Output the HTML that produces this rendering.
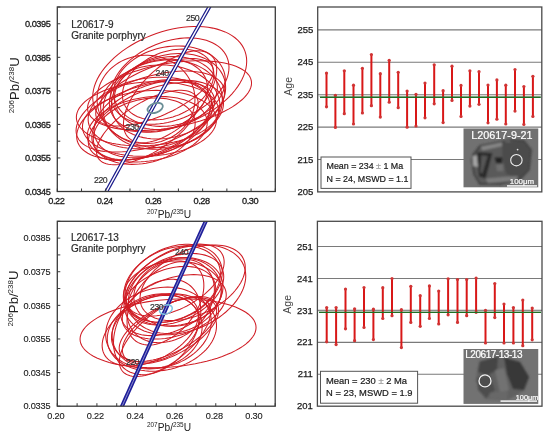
<!DOCTYPE html><html><head><meta charset="utf-8"><style>html,body{margin:0;padding:0;background:#fff;}svg{display:block}</style></head><body><svg width="550" height="437" viewBox="0 0 550 437">
<defs><filter id="bl1" x="-10%" y="-10%" width="120%" height="120%"><feGaussianBlur stdDeviation="0.9"/></filter></defs>
<rect width="550" height="437" fill="#fff"/>
<clipPath id="c1"><rect x="57.3" y="7" width="218.0" height="184.5"/></clipPath>
<g clip-path="url(#c1)">
<polygon points="251.54,83.03 251.34,80.79 250.74,78.63 249.75,76.54 248.36,74.55 246.59,72.67 244.45,70.89 241.94,69.24 239.08,67.71 235.88,66.32 232.36,65.07 228.53,63.97 224.41,63.02 220.02,62.23 215.39,61.61 210.54,61.15 205.49,60.86 200.26,60.73 194.88,60.78 189.38,61.00 183.78,61.38 178.11,61.93 172.40,62.65 166.68,63.52 160.97,64.56 155.30,65.74 149.70,67.07 144.20,68.53 138.82,70.13 133.59,71.85 128.54,73.69 123.69,75.64 119.06,77.68 114.67,79.81 110.55,82.01 106.72,84.28 103.20,86.61 100.00,88.98 97.14,91.38 94.63,93.81 92.49,96.24 90.72,98.67 89.33,101.08 88.34,103.47 87.74,105.81 87.54,108.11 87.74,110.35 88.34,112.51 89.33,114.60 90.72,116.59 92.49,118.47 94.63,120.25 97.14,121.90 100.00,123.43 103.20,124.82 106.72,126.07 110.55,127.17 114.67,128.12 119.06,128.91 123.69,129.53 128.54,129.99 133.59,130.28 138.82,130.41 144.20,130.36 149.70,130.14 155.30,129.76 160.97,129.21 166.68,128.49 172.40,127.62 178.11,126.58 183.78,125.40 189.38,124.07 194.88,122.61 200.26,121.01 205.49,119.29 210.54,117.45 215.39,115.50 220.02,113.46 224.41,111.33 228.53,109.13 232.36,106.86 235.88,104.53 239.08,102.16 241.94,99.76 244.45,97.33 246.59,94.90 248.36,92.47 249.75,90.06 250.74,87.67 251.34,85.33" fill="none" stroke="#d01c24" stroke-width="1.05"/>
<polygon points="195.14,123.55 195.02,121.31 194.64,119.13 194.03,117.00 193.17,114.94 192.07,112.96 190.74,111.07 189.18,109.28 187.40,107.60 185.41,106.03 183.22,104.58 180.85,103.26 178.29,102.08 175.57,101.04 172.69,100.14 169.68,99.40 166.54,98.81 163.29,98.38 159.95,98.11 156.53,98.00 153.05,98.05 149.53,98.27 145.99,98.64 142.43,99.18 138.89,99.86 135.37,100.71 131.89,101.69 128.47,102.83 125.13,104.10 121.88,105.50 118.75,107.03 115.73,108.68 112.85,110.43 110.13,112.29 107.57,114.24 105.20,116.27 103.01,118.37 101.02,120.54 99.24,122.76 97.68,125.02 96.35,127.31 95.25,129.62 94.39,131.93 93.78,134.24 93.40,136.54 93.28,138.81 93.40,141.05 93.78,143.23 94.39,145.36 95.25,147.42 96.35,149.40 97.68,151.29 99.24,153.08 101.02,154.76 103.01,156.33 105.20,157.78 107.57,159.10 110.13,160.28 112.85,161.32 115.73,162.22 118.74,162.96 121.88,163.55 125.13,163.98 128.47,164.25 131.89,164.36 135.37,164.31 138.89,164.09 142.43,163.72 145.99,163.18 149.53,162.50 153.05,161.65 156.53,160.67 159.95,159.53 163.29,158.26 166.54,156.86 169.68,155.33 172.69,153.68 175.57,151.93 178.29,150.07 180.85,148.12 183.22,146.09 185.41,143.99 187.40,141.82 189.18,139.60 190.74,137.34 192.07,135.05 193.17,132.74 194.03,130.43 194.64,128.12 195.02,125.82" fill="none" stroke="#d01c24" stroke-width="1.05"/>
<polygon points="194.96,99.40 194.84,96.32 194.48,93.25 193.89,90.21 193.06,87.22 192.01,84.29 190.73,81.43 189.23,78.66 187.52,75.99 185.61,73.43 183.51,71.00 181.22,68.71 178.76,66.57 176.15,64.59 173.38,62.77 170.49,61.14 167.47,59.69 164.35,58.44 161.14,57.38 157.85,56.53 154.51,55.89 151.13,55.46 147.72,55.25 144.30,55.25 140.89,55.46 137.51,55.89 134.17,56.53 130.88,57.38 127.67,58.44 124.55,59.69 121.53,61.14 118.64,62.77 115.87,64.59 113.26,66.57 110.80,68.71 108.51,71.00 106.41,73.43 104.50,75.99 102.79,78.66 101.29,81.43 100.01,84.29 98.96,87.22 98.13,90.21 97.54,93.25 97.18,96.32 97.06,99.40 97.18,102.48 97.54,105.55 98.13,108.59 98.96,111.58 100.01,114.51 101.29,117.37 102.79,120.14 104.50,122.81 106.41,125.37 108.51,127.80 110.80,130.09 113.26,132.23 115.87,134.21 118.64,136.03 121.53,137.66 124.55,139.11 127.67,140.36 130.88,141.42 134.17,142.27 137.51,142.91 140.89,143.34 144.30,143.55 147.72,143.55 151.13,143.34 154.51,142.91 157.85,142.27 161.14,141.42 164.35,140.36 167.47,139.11 170.49,137.66 173.38,136.03 176.15,134.21 178.76,132.23 181.22,130.09 183.51,127.80 185.61,125.37 187.52,122.81 189.23,120.14 190.73,117.37 192.01,114.51 193.06,111.58 193.89,108.59 194.48,105.55 194.84,102.48" fill="none" stroke="#d01c24" stroke-width="1.05"/>
<polygon points="211.52,102.35 211.37,99.89 210.94,97.53 210.21,95.27 209.20,93.14 207.91,91.13 206.35,89.27 204.52,87.55 202.43,86.00 200.09,84.61 197.52,83.39 194.73,82.35 191.72,81.49 188.52,80.82 185.14,80.34 181.60,80.05 177.91,79.96 174.10,80.06 170.17,80.36 166.16,80.85 162.07,81.53 157.93,82.40 153.77,83.45 149.59,84.68 145.43,86.08 141.29,87.64 137.20,89.36 133.19,91.23 129.26,93.25 125.45,95.39 121.76,97.65 118.22,100.02 114.84,102.48 111.64,105.04 108.63,107.66 105.84,110.35 103.27,113.08 100.93,115.84 98.84,118.63 97.01,121.42 95.45,124.20 94.16,126.97 93.15,129.69 92.42,132.38 91.99,135.00 91.84,137.55 91.99,140.01 92.42,142.37 93.15,144.63 94.16,146.76 95.45,148.77 97.01,150.63 98.84,152.35 100.93,153.90 103.27,155.29 105.84,156.51 108.63,157.55 111.64,158.41 114.84,159.08 118.22,159.56 121.76,159.85 125.45,159.94 129.26,159.84 133.19,159.54 137.20,159.05 141.29,158.37 145.43,157.50 149.59,156.45 153.77,155.22 157.93,153.82 162.07,152.26 166.16,150.54 170.17,148.67 174.10,146.65 177.91,144.51 181.60,142.25 185.14,139.88 188.52,137.42 191.72,134.86 194.73,132.24 197.52,129.55 200.09,126.82 202.43,124.06 204.52,121.27 206.35,118.48 207.91,115.70 209.20,112.93 210.21,110.21 210.94,107.52 211.37,104.90" fill="none" stroke="#d01c24" stroke-width="1.05"/>
<polygon points="216.71,69.58 216.60,67.06 216.26,64.68 215.69,62.45 214.90,60.40 213.90,58.52 212.68,56.82 211.25,55.32 209.63,54.02 207.81,52.93 205.80,52.06 203.63,51.40 201.28,50.96 198.79,50.74 196.16,50.75 193.40,50.99 190.53,51.44 187.55,52.12 184.50,53.01 181.37,54.12 178.19,55.43 174.96,56.95 171.72,58.66 168.46,60.55 165.22,62.62 161.99,64.86 158.81,67.25 155.68,69.79 152.63,72.46 149.65,75.24 146.78,78.13 144.02,81.11 141.39,84.17 138.90,87.29 136.55,90.45 134.38,93.65 132.37,96.86 130.55,100.07 128.93,103.26 127.50,106.42 126.28,109.53 125.28,112.58 124.49,115.56 123.92,118.44 123.58,121.22 123.47,123.88 123.58,126.40 123.92,128.78 124.49,131.01 125.28,133.06 126.28,134.94 127.50,136.64 128.93,138.14 130.55,139.44 132.37,140.53 134.38,141.40 136.55,142.06 138.90,142.50 141.39,142.72 144.02,142.71 146.78,142.47 149.65,142.02 152.63,141.34 155.68,140.45 158.81,139.34 161.99,138.03 165.22,136.51 168.46,134.80 171.72,132.91 174.96,130.84 178.19,128.60 181.37,126.21 184.50,123.67 187.55,121.00 190.53,118.22 193.40,115.33 196.16,112.35 198.79,109.29 201.28,106.17 203.63,103.01 205.80,99.81 207.81,96.60 209.63,93.39 211.25,90.20 212.68,87.04 213.90,83.93 214.90,80.88 215.69,77.90 216.26,75.02 216.60,72.24" fill="none" stroke="#d01c24" stroke-width="1.05"/>
<polygon points="246.70,61.26 246.51,57.85 245.95,54.55 245.02,51.36 243.72,48.31 242.06,45.41 240.04,42.67 237.69,40.12 235.00,37.75 231.99,35.58 228.69,33.63 225.09,31.90 221.22,30.40 217.11,29.13 212.76,28.11 208.20,27.34 203.45,26.82 198.54,26.56 193.49,26.55 188.33,26.80 183.07,27.30 177.75,28.06 172.39,29.06 167.01,30.31 161.65,31.80 156.33,33.52 151.07,35.46 145.91,37.61 140.86,39.97 135.95,42.51 131.20,45.24 126.64,48.13 122.29,51.17 118.18,54.35 114.31,57.65 110.71,61.05 107.41,64.54 104.40,68.10 101.71,71.72 99.36,75.38 97.34,79.05 95.68,82.72 94.38,86.37 93.45,89.99 92.89,93.56 92.70,97.06 92.89,100.47 93.45,103.77 94.38,106.96 95.68,110.01 97.34,112.91 99.36,115.65 101.71,118.20 104.40,120.57 107.41,122.74 110.71,124.69 114.31,126.42 118.18,127.92 122.29,129.19 126.64,130.21 131.20,130.98 135.95,131.50 140.86,131.76 145.91,131.77 151.07,131.52 156.33,131.02 161.65,130.26 167.01,129.26 172.39,128.01 177.75,126.52 183.07,124.80 188.33,122.86 193.49,120.71 198.54,118.35 203.45,115.81 208.20,113.08 212.76,110.19 217.11,107.15 221.22,103.97 225.09,100.67 228.69,97.27 231.99,93.78 235.00,90.22 237.69,86.60 240.04,82.94 242.06,79.27 243.72,75.60 245.02,71.95 245.95,68.33 246.51,64.76" fill="none" stroke="#d01c24" stroke-width="1.05"/>
<polygon points="222.37,99.73 222.22,96.64 221.79,93.59 221.07,90.60 220.06,87.67 218.78,84.83 217.22,82.09 215.39,79.45 213.32,76.94 210.99,74.56 208.43,72.33 205.65,70.26 202.65,68.35 199.47,66.62 196.10,65.08 192.58,63.72 188.90,62.57 185.10,61.62 181.19,60.89 177.20,60.36 173.13,60.05 169.01,59.96 164.86,60.09 160.70,60.43 156.55,60.99 152.43,61.76 148.36,62.74 144.37,63.92 140.46,65.31 136.66,66.88 132.99,68.64 129.46,70.57 126.09,72.67 122.91,74.93 119.91,77.33 117.13,79.86 114.57,82.51 112.24,85.27 110.17,88.13 108.34,91.07 106.78,94.07 105.50,97.12 104.49,100.21 103.77,103.33 103.34,106.45 103.19,109.55 103.34,112.64 103.77,115.69 104.49,118.68 105.50,121.61 106.78,124.45 108.34,127.19 110.17,129.83 112.24,132.34 114.57,134.72 117.13,136.95 119.91,139.02 122.91,140.93 126.09,142.66 129.46,144.20 132.98,145.56 136.66,146.71 140.46,147.66 144.37,148.39 148.36,148.92 152.43,149.23 156.55,149.32 160.70,149.19 164.86,148.85 169.01,148.29 173.13,147.52 177.20,146.54 181.19,145.36 185.10,143.97 188.90,142.40 192.58,140.64 196.10,138.71 199.47,136.61 202.65,134.35 205.65,131.95 208.43,129.42 210.99,126.77 213.32,124.01 215.39,121.15 217.22,118.21 218.78,115.21 220.06,112.16 221.07,109.07 221.79,105.95 222.22,102.83" fill="none" stroke="#d01c24" stroke-width="1.05"/>
<polygon points="228.98,67.26 228.84,64.44 228.40,61.70 227.69,59.06 226.69,56.52 225.41,54.10 223.87,51.82 222.06,49.67 220.00,47.68 217.69,45.86 215.15,44.20 212.38,42.72 209.42,41.43 206.25,40.34 202.92,39.44 199.41,38.74 195.77,38.25 192.00,37.97 188.12,37.90 184.15,38.04 180.12,38.39 176.03,38.95 171.91,39.71 167.79,40.68 163.67,41.84 159.58,43.19 155.55,44.73 151.58,46.44 147.70,48.33 143.93,50.37 140.28,52.56 136.78,54.89 133.45,57.35 130.28,59.92 127.32,62.60 124.55,65.37 122.01,68.21 119.70,71.12 117.64,74.07 115.83,77.06 114.29,80.07 113.01,83.09 112.01,86.09 111.30,89.07 110.86,92.01 110.72,94.90 110.86,97.72 111.30,100.46 112.01,103.10 113.01,105.64 114.29,108.06 115.83,110.34 117.64,112.49 119.70,114.48 122.01,116.30 124.55,117.96 127.32,119.44 130.28,120.73 133.45,121.82 136.78,122.72 140.28,123.42 143.93,123.91 147.70,124.19 151.58,124.26 155.55,124.12 159.58,123.77 163.67,123.21 167.79,122.45 171.91,121.48 176.03,120.32 180.12,118.97 184.15,117.43 188.12,115.72 192.00,113.83 195.77,111.79 199.41,109.60 202.92,107.27 206.25,104.81 209.42,102.24 212.38,99.56 215.15,96.79 217.69,93.95 220.00,91.04 222.06,88.09 223.87,85.10 225.41,82.09 226.69,79.07 227.69,76.07 228.40,73.09 228.84,70.15" fill="none" stroke="#d01c24" stroke-width="1.05"/>
<polygon points="207.66,88.34 207.54,85.86 207.18,83.42 206.59,81.05 205.76,78.75 204.70,76.53 203.41,74.40 201.91,72.38 200.19,70.47 198.27,68.68 196.16,67.02 193.87,65.51 191.40,64.14 188.77,62.92 185.99,61.86 183.09,60.97 180.06,60.25 176.92,59.70 173.70,59.32 170.40,59.12 167.04,59.10 163.65,59.26 160.23,59.60 156.79,60.11 153.37,60.79 149.98,61.64 146.62,62.66 143.32,63.84 140.10,65.18 136.96,66.66 133.94,68.28 131.03,70.04 128.25,71.92 125.62,73.92 123.15,76.03 120.86,78.23 118.75,80.51 116.83,82.87 115.11,85.29 113.61,87.76 112.32,90.27 111.26,92.81 110.43,95.35 109.84,97.91 109.48,100.45 109.36,102.96 109.48,105.44 109.84,107.88 110.43,110.25 111.26,112.55 112.32,114.77 113.61,116.90 115.11,118.92 116.83,120.83 118.75,122.62 120.86,124.28 123.15,125.79 125.62,127.16 128.25,128.38 131.03,129.44 133.93,130.33 136.96,131.05 140.10,131.60 143.32,131.98 146.62,132.18 149.98,132.20 153.37,132.04 156.79,131.70 160.23,131.19 163.65,130.51 167.04,129.66 170.40,128.64 173.70,127.46 176.92,126.12 180.06,124.64 183.09,123.02 185.99,121.26 188.77,119.38 191.40,117.38 193.87,115.27 196.16,113.07 198.27,110.79 200.19,108.43 201.91,106.01 203.41,103.54 204.70,101.03 205.76,98.49 206.59,95.95 207.18,93.39 207.54,90.85" fill="none" stroke="#d01c24" stroke-width="1.05"/>
<polygon points="198.17,103.31 198.05,101.40 197.68,99.61 197.06,97.96 196.20,96.45 195.11,95.09 193.78,93.90 192.22,92.86 190.45,92.00 188.47,91.30 186.28,90.79 183.91,90.45 181.36,90.29 178.64,90.32 175.77,90.52 172.77,90.91 169.63,91.47 166.39,92.21 163.06,93.13 159.65,94.20 156.18,95.45 152.67,96.84 149.13,98.39 145.59,100.08 142.05,101.91 138.54,103.85 135.07,105.92 131.66,108.09 128.33,110.35 125.09,112.70 121.96,115.11 118.95,117.59 116.08,120.12 113.36,122.69 110.81,125.27 108.44,127.87 106.25,130.47 104.27,133.05 102.50,135.61 100.94,138.12 99.61,140.59 98.52,142.99 97.66,145.31 97.04,147.55 96.67,149.69 96.55,151.73 96.67,153.64 97.04,155.43 97.66,157.08 98.52,158.59 99.61,159.95 100.94,161.14 102.50,162.18 104.27,163.04 106.25,163.74 108.44,164.25 110.81,164.59 113.36,164.75 116.08,164.72 118.95,164.52 121.95,164.13 125.09,163.57 128.33,162.83 131.66,161.91 135.07,160.84 138.54,159.59 142.05,158.20 145.59,156.65 149.13,154.96 152.67,153.13 156.18,151.19 159.65,149.12 163.06,146.95 166.39,144.69 169.63,142.34 172.77,139.93 175.77,137.45 178.64,134.92 181.36,132.35 183.91,129.77 186.28,127.17 188.47,124.57 190.45,121.99 192.22,119.43 193.78,116.92 195.11,114.45 196.20,112.05 197.06,109.73 197.68,107.49 198.05,105.35" fill="none" stroke="#d01c24" stroke-width="1.05"/>
<polygon points="207.23,122.63 207.08,120.41 206.65,118.23 205.92,116.10 204.91,114.04 203.61,112.04 202.05,110.14 200.21,108.32 198.12,106.61 195.78,105.01 193.20,103.52 190.40,102.16 187.39,100.94 184.19,99.84 180.80,98.90 177.25,98.10 173.56,97.45 169.74,96.96 165.81,96.62 161.78,96.44 157.69,96.42 153.55,96.56 149.37,96.86 145.19,97.32 141.01,97.93 136.87,98.70 132.78,99.61 128.75,100.67 124.82,101.87 121.00,103.20 117.31,104.65 113.76,106.23 110.37,107.92 107.17,109.71 104.16,111.60 101.36,113.57 98.78,115.62 96.44,117.73 94.35,119.90 92.51,122.12 90.95,124.37 89.65,126.64 88.64,128.93 87.91,131.21 87.48,133.49 87.33,135.75 87.48,137.97 87.91,140.15 88.64,142.28 89.65,144.34 90.95,146.34 92.51,148.24 94.35,150.06 96.44,151.77 98.78,153.37 101.36,154.86 104.16,156.22 107.17,157.44 110.37,158.54 113.76,159.48 117.30,160.28 121.00,160.93 124.82,161.42 128.75,161.76 132.78,161.94 136.87,161.96 141.01,161.82 145.19,161.52 149.37,161.06 153.55,160.45 157.69,159.68 161.78,158.77 165.81,157.71 169.74,156.51 173.56,155.18 177.25,153.73 180.80,152.15 184.19,150.46 187.39,148.67 190.40,146.78 193.20,144.81 195.78,142.76 198.12,140.65 200.21,138.48 202.05,136.26 203.61,134.01 204.91,131.74 205.92,129.45 206.65,127.17 207.08,124.89" fill="none" stroke="#d01c24" stroke-width="1.05"/>
<polygon points="212.63,106.96 212.48,104.51 212.02,102.10 211.27,99.75 210.22,97.46 208.88,95.25 207.25,93.12 205.34,91.09 203.17,89.17 200.74,87.36 198.07,85.68 195.16,84.13 192.03,82.73 188.70,81.47 185.19,80.36 181.50,79.42 177.67,78.64 173.70,78.02 169.62,77.58 165.44,77.31 161.19,77.21 156.89,77.29 152.55,77.54 148.21,77.97 143.87,78.56 139.57,79.33 135.32,80.25 131.14,81.34 127.06,82.59 123.09,83.98 119.26,85.51 115.57,87.18 112.06,88.97 108.73,90.88 105.60,92.90 102.69,95.02 100.02,97.22 97.59,99.50 95.42,101.85 93.51,104.25 91.88,106.70 90.54,109.17 89.49,111.67 88.74,114.17 88.28,116.66 88.13,119.14 88.28,121.59 88.74,124.00 89.49,126.35 90.54,128.64 91.88,130.85 93.51,132.98 95.42,135.01 97.59,136.93 100.02,138.74 102.69,140.42 105.60,141.97 108.73,143.37 112.06,144.63 115.57,145.74 119.25,146.68 123.09,147.46 127.06,148.08 131.14,148.52 135.32,148.79 139.57,148.89 143.87,148.81 148.21,148.56 152.55,148.13 156.89,147.54 161.19,146.77 165.44,145.85 169.62,144.76 173.70,143.51 177.67,142.12 181.50,140.59 185.19,138.92 188.70,137.13 192.03,135.22 195.16,133.20 198.07,131.08 200.74,128.88 203.17,126.60 205.34,124.25 207.25,121.85 208.88,119.40 210.22,116.93 211.27,114.43 212.02,111.93 212.48,109.44" fill="none" stroke="#d01c24" stroke-width="1.05"/>
<polygon points="225.32,80.13 225.18,77.37 224.78,74.65 224.10,71.99 223.16,69.40 221.95,66.89 220.49,64.47 218.79,62.16 216.84,59.97 214.66,57.90 212.26,55.97 209.65,54.19 206.85,52.56 203.87,51.10 200.71,49.81 197.41,48.70 193.97,47.77 190.41,47.02 186.75,46.47 183.00,46.11 179.19,45.94 175.33,45.97 171.45,46.20 167.55,46.62 163.67,47.23 159.81,48.04 156.00,49.03 152.25,50.20 148.59,51.54 145.03,53.06 141.59,54.73 138.29,56.56 135.13,58.53 132.15,60.64 129.35,62.87 126.74,65.22 124.34,67.66 122.16,70.20 120.21,72.81 118.51,75.49 117.05,78.23 115.84,81.00 114.90,83.79 114.22,86.60 113.82,89.41 113.68,92.19 113.82,94.95 114.22,97.67 114.90,100.33 115.84,102.92 117.05,105.43 118.51,107.85 120.21,110.16 122.16,112.35 124.34,114.42 126.74,116.35 129.35,118.13 132.15,119.76 135.13,121.22 138.29,122.51 141.59,123.62 145.03,124.55 148.59,125.30 152.25,125.85 156.00,126.21 159.81,126.38 163.67,126.35 167.55,126.12 171.45,125.70 175.33,125.09 179.19,124.28 183.00,123.29 186.75,122.12 190.41,120.78 193.97,119.26 197.41,117.59 200.71,115.76 203.87,113.79 206.85,111.68 209.65,109.45 212.26,107.10 214.66,104.66 216.84,102.12 218.79,99.51 220.49,96.83 221.95,94.09 223.16,91.32 224.10,88.53 224.78,85.72 225.18,82.91" fill="none" stroke="#d01c24" stroke-width="1.05"/>
<polygon points="216.41,120.06 216.25,117.78 215.76,115.53 214.95,113.31 213.82,111.14 212.37,109.04 210.62,107.00 208.57,105.04 206.23,103.17 203.62,101.40 200.74,99.74 197.61,98.19 194.25,96.77 190.67,95.47 186.88,94.31 182.92,93.29 178.79,92.42 174.52,91.70 170.13,91.13 165.63,90.72 161.06,90.47 156.43,90.38 151.77,90.45 147.09,90.68 142.43,91.07 137.80,91.62 133.23,92.32 128.73,93.17 124.34,94.17 120.07,95.31 115.94,96.59 111.98,98.00 108.19,99.53 104.61,101.18 101.25,102.94 98.12,104.79 95.24,106.74 92.63,108.77 90.29,110.87 88.24,113.03 86.49,115.24 85.04,117.49 83.91,119.76 83.10,122.06 82.61,124.36 82.45,126.66 82.61,128.94 83.10,131.19 83.91,133.41 85.04,135.58 86.49,137.68 88.24,139.72 90.29,141.68 92.63,143.55 95.24,145.32 98.12,146.98 101.25,148.53 104.61,149.95 108.19,151.25 111.98,152.41 115.94,153.43 120.07,154.30 124.34,155.02 128.73,155.59 133.23,156.00 137.80,156.25 142.43,156.34 147.09,156.27 151.77,156.04 156.43,155.65 161.06,155.10 165.63,154.40 170.13,153.55 174.52,152.55 178.79,151.41 182.92,150.13 186.88,148.72 190.67,147.19 194.25,145.54 197.61,143.78 200.74,141.93 203.62,139.98 206.23,137.95 208.57,135.85 210.62,133.69 212.37,131.48 213.82,129.23 214.95,126.96 215.76,124.66 216.25,122.36" fill="none" stroke="#d01c24" stroke-width="1.05"/>
<polygon points="213.80,73.88 213.69,71.55 213.36,69.29 212.80,67.10 212.03,65.00 211.04,62.98 209.85,61.08 208.45,59.29 206.86,57.62 205.07,56.08 203.11,54.68 200.97,53.43 198.68,52.32 196.24,51.38 193.66,50.59 190.95,49.97 188.13,49.52 185.22,49.24 182.22,49.13 179.16,49.19 176.04,49.43 172.88,49.83 169.69,50.41 166.51,51.15 163.32,52.05 160.16,53.11 157.04,54.33 153.98,55.69 150.98,57.19 148.07,58.82 145.25,60.58 142.54,62.46 139.96,64.44 137.52,66.52 135.23,68.69 133.09,70.93 131.13,73.25 129.34,75.61 127.75,78.02 126.35,80.46 125.16,82.92 124.17,85.39 123.40,87.85 122.84,90.30 122.51,92.72 122.40,95.10 122.51,97.43 122.84,99.69 123.40,101.88 124.17,103.98 125.16,106.00 126.35,107.90 127.75,109.69 129.34,111.36 131.13,112.90 133.09,114.30 135.23,115.55 137.52,116.66 139.96,117.60 142.54,118.39 145.25,119.01 148.07,119.46 150.98,119.74 153.98,119.85 157.04,119.79 160.16,119.55 163.32,119.15 166.51,118.57 169.69,117.83 172.88,116.93 176.04,115.87 179.16,114.65 182.22,113.29 185.22,111.79 188.13,110.16 190.95,108.40 193.66,106.52 196.24,104.54 198.68,102.46 200.97,100.29 203.11,98.05 205.07,95.73 206.86,93.37 208.45,90.96 209.85,88.52 211.04,86.06 212.03,83.59 212.80,81.13 213.36,78.68 213.69,76.26" fill="none" stroke="#d01c24" stroke-width="1.05"/>
<polygon points="218.58,110.27 218.41,108.06 217.89,105.87 217.03,103.72 215.83,101.62 214.29,99.58 212.43,97.61 210.26,95.72 207.77,93.91 205.00,92.20 201.94,90.60 198.62,89.11 195.05,87.74 191.25,86.50 187.23,85.39 183.03,84.42 178.64,83.59 174.11,82.91 169.44,82.38 164.67,82.01 159.82,81.79 154.90,81.72 149.95,81.81 144.99,82.06 140.04,82.46 135.12,83.01 130.27,83.72 125.50,84.57 120.83,85.56 116.30,86.69 111.92,87.95 107.71,89.34 103.69,90.85 99.89,92.47 96.32,94.19 93.00,96.01 89.94,97.91 87.17,99.90 84.68,101.95 82.51,104.05 80.65,106.21 79.11,108.40 77.91,110.62 77.05,112.86 76.53,115.10 76.36,117.33 76.53,119.54 77.05,121.73 77.91,123.88 79.11,125.98 80.65,128.02 82.51,129.99 84.68,131.88 87.17,133.69 89.94,135.40 93.00,137.00 96.32,138.49 99.89,139.86 103.69,141.10 107.71,142.21 111.91,143.18 116.30,144.01 120.83,144.69 125.50,145.22 130.27,145.59 135.12,145.81 140.04,145.88 144.99,145.79 149.95,145.54 154.90,145.14 159.82,144.59 164.67,143.88 169.44,143.03 174.11,142.04 178.64,140.91 183.03,139.65 187.23,138.26 191.25,136.75 195.05,135.13 198.62,133.41 201.94,131.59 205.00,129.69 207.77,127.70 210.26,125.65 212.43,123.55 214.29,121.39 215.83,119.20 217.03,116.98 217.89,114.74 218.41,112.50" fill="none" stroke="#d01c24" stroke-width="1.05"/>
<polygon points="217.36,87.60 217.23,85.10 216.86,82.63 216.23,80.22 215.36,77.87 214.25,75.60 212.91,73.41 211.33,71.31 209.53,69.32 207.52,67.45 205.31,65.70 202.90,64.09 200.32,62.61 197.56,61.29 194.65,60.12 191.60,59.11 188.43,58.26 185.15,57.59 181.77,57.09 178.31,56.76 174.79,56.61 171.23,56.64 167.65,56.84 164.05,57.23 160.47,57.78 156.91,58.51 153.39,59.41 149.93,60.47 146.55,61.69 143.27,63.06 140.09,64.58 137.05,66.24 134.14,68.02 131.38,69.93 128.80,71.96 126.39,74.08 124.18,76.30 122.17,78.60 120.37,80.97 118.79,83.40 117.45,85.88 116.34,88.39 115.47,90.92 114.84,93.47 114.47,96.01 114.34,98.54 114.47,101.04 114.84,103.51 115.47,105.92 116.34,108.27 117.45,110.54 118.79,112.73 120.37,114.83 122.17,116.82 124.18,118.69 126.39,120.44 128.80,122.05 131.38,123.53 134.14,124.85 137.05,126.02 140.09,127.03 143.27,127.88 146.55,128.55 149.93,129.05 153.39,129.38 156.91,129.53 160.47,129.50 164.05,129.30 167.65,128.91 171.23,128.36 174.79,127.63 178.31,126.73 181.77,125.67 185.15,124.45 188.43,123.08 191.60,121.56 194.65,119.90 197.56,118.12 200.32,116.21 202.90,114.18 205.31,112.06 207.52,109.84 209.53,107.54 211.33,105.17 212.91,102.74 214.25,100.26 215.36,97.75 216.23,95.22 216.86,92.67 217.23,90.13" fill="none" stroke="#d01c24" stroke-width="1.05"/>
<polygon points="213.30,71.08 213.16,69.30 212.73,67.64 212.02,66.10 211.02,64.68 209.75,63.40 208.22,62.26 206.42,61.27 204.37,60.43 202.07,59.74 199.55,59.21 196.80,58.85 193.85,58.64 190.70,58.61 187.38,58.73 183.91,59.02 180.28,59.47 176.53,60.08 172.68,60.85 168.73,61.77 164.72,62.84 160.66,64.06 156.56,65.41 152.46,66.89 148.36,68.50 144.30,70.22 140.29,72.05 136.34,73.98 132.49,76.00 128.74,78.10 125.12,80.26 121.64,82.49 118.32,84.76 115.17,87.07 112.22,89.41 109.47,91.76 106.95,94.11 104.65,96.46 102.60,98.78 100.80,101.08 99.27,103.33 98.00,105.52 97.00,107.65 96.29,109.71 95.86,111.69 95.72,113.56 95.86,115.34 96.29,117.00 97.00,118.54 98.00,119.96 99.27,121.24 100.80,122.38 102.60,123.37 104.65,124.21 106.95,124.90 109.47,125.43 112.22,125.79 115.17,126.00 118.32,126.03 121.64,125.91 125.11,125.62 128.74,125.17 132.49,124.56 136.34,123.79 140.29,122.87 144.30,121.80 148.36,120.58 152.46,119.23 156.56,117.75 160.66,116.14 164.72,114.42 168.73,112.59 172.68,110.66 176.53,108.64 180.28,106.54 183.91,104.38 187.38,102.15 190.70,99.88 193.85,97.57 196.80,95.23 199.55,92.88 202.07,90.53 204.37,88.18 206.42,85.86 208.22,83.56 209.75,81.31 211.02,79.12 212.02,76.99 212.73,74.93 213.16,72.95" fill="none" stroke="#d01c24" stroke-width="1.05"/>
<polygon points="210.17,107.10 210.03,104.53 209.61,102.03 208.90,99.62 207.92,97.30 206.67,95.08 205.15,92.98 203.38,91.01 201.35,89.17 199.08,87.47 196.59,85.93 193.88,84.55 190.96,83.33 187.86,82.29 184.58,81.42 181.15,80.74 177.57,80.24 173.87,79.93 170.06,79.81 166.16,79.88 162.20,80.14 158.19,80.59 154.15,81.22 150.09,82.04 146.05,83.03 142.04,84.20 138.08,85.54 134.18,87.04 130.37,88.69 126.67,90.50 123.10,92.43 119.66,94.50 116.38,96.69 113.28,98.98 110.36,101.37 107.65,103.85 105.16,106.39 102.89,109.00 100.86,111.66 99.09,114.35 97.57,117.06 96.32,119.78 95.34,122.50 94.63,125.20 94.21,127.86 94.07,130.48 94.21,133.05 94.63,135.55 95.34,137.96 96.32,140.28 97.57,142.50 99.09,144.60 100.86,146.57 102.89,148.41 105.16,150.11 107.65,151.65 110.36,153.03 113.28,154.25 116.38,155.29 119.66,156.16 123.09,156.84 126.67,157.34 130.37,157.65 134.18,157.77 138.08,157.70 142.04,157.44 146.05,156.99 150.09,156.36 154.15,155.54 158.19,154.55 162.20,153.38 166.16,152.04 170.06,150.54 173.87,148.89 177.57,147.08 181.15,145.15 184.58,143.08 187.86,140.89 190.96,138.60 193.88,136.21 196.59,133.73 199.08,131.19 201.35,128.58 203.38,125.92 205.15,123.23 206.67,120.52 207.92,117.80 208.90,115.08 209.61,112.38 210.03,109.72" fill="none" stroke="#d01c24" stroke-width="1.05"/>
<polygon points="224.56,92.51 224.38,90.06 223.84,87.72 222.94,85.49 221.68,83.39 220.08,81.43 218.14,79.61 215.87,77.95 213.28,76.46 210.38,75.13 207.19,73.98 203.72,73.02 199.99,72.24 196.02,71.65 191.83,71.26 187.44,71.06 182.86,71.07 178.12,71.26 173.25,71.66 168.27,72.25 163.20,73.03 158.07,74.00 152.90,75.15 147.72,76.48 142.55,77.98 137.42,79.64 132.35,81.46 127.37,83.43 122.50,85.53 117.76,87.76 113.19,90.10 108.79,92.55 104.60,95.10 100.63,97.72 96.90,100.41 93.43,103.15 90.24,105.94 87.34,108.75 84.75,111.57 82.48,114.40 80.54,117.21 78.94,120.00 77.68,122.74 76.78,125.43 76.24,128.05 76.06,130.59 76.24,133.04 76.78,135.38 77.68,137.61 78.94,139.71 80.54,141.67 82.48,143.49 84.75,145.15 87.34,146.64 90.24,147.97 93.43,149.12 96.90,150.08 100.63,150.86 104.60,151.45 108.79,151.84 113.18,152.04 117.76,152.03 122.50,151.84 127.37,151.44 132.35,150.85 137.42,150.07 142.55,149.10 147.72,147.95 152.90,146.62 158.07,145.12 163.20,143.46 168.27,141.64 173.25,139.67 178.12,137.57 182.86,135.34 187.44,133.00 191.83,130.55 196.02,128.00 199.99,125.38 203.72,122.69 207.19,119.95 210.38,117.16 213.28,114.35 215.87,111.53 218.14,108.70 220.08,105.89 221.68,103.10 222.94,100.36 223.84,97.67 224.38,95.05" fill="none" stroke="#d01c24" stroke-width="1.05"/>
<polygon points="223.49,103.55 223.31,101.05 222.78,98.64 221.89,96.33 220.65,94.14 219.06,92.07 217.14,90.14 214.90,88.35 212.33,86.72 209.47,85.25 206.31,83.94 202.88,82.82 199.20,81.87 195.27,81.11 191.13,80.54 186.78,80.16 182.26,79.98 177.57,79.99 172.76,80.19 167.83,80.59 162.82,81.18 157.74,81.96 152.63,82.93 147.51,84.07 142.40,85.39 137.32,86.88 132.31,88.53 127.38,90.33 122.57,92.27 117.88,94.35 113.36,96.56 109.01,98.88 104.87,101.30 100.94,103.82 97.26,106.41 93.83,109.06 90.67,111.78 87.81,114.53 85.24,117.30 83.00,120.09 81.08,122.88 79.49,125.66 78.25,128.40 77.36,131.11 76.83,133.76 76.65,136.35 76.83,138.85 77.36,141.26 78.25,143.57 79.49,145.76 81.08,147.83 83.00,149.76 85.24,151.55 87.81,153.18 90.67,154.65 93.83,155.96 97.26,157.08 100.94,158.03 104.87,158.79 109.01,159.36 113.36,159.74 117.88,159.92 122.57,159.91 127.38,159.71 132.31,159.31 137.32,158.72 142.40,157.94 147.51,156.97 152.63,155.83 157.74,154.51 162.82,153.02 167.83,151.37 172.76,149.57 177.57,147.63 182.26,145.55 186.78,143.34 191.13,141.02 195.27,138.60 199.20,136.08 202.88,133.49 206.31,130.84 209.47,128.12 212.33,125.37 214.90,122.60 217.14,119.81 219.06,117.02 220.65,114.24 221.89,111.50 222.78,108.79 223.31,106.14" fill="none" stroke="#d01c24" stroke-width="1.05"/>
<polygon points="225.63,87.68 225.49,84.78 225.07,81.93 224.38,79.15 223.42,76.46 222.19,73.86 220.69,71.38 218.94,69.01 216.95,66.78 214.72,64.69 212.27,62.75 209.60,60.97 206.73,59.37 203.68,57.95 200.45,56.71 197.07,55.67 193.55,54.83 189.91,54.18 186.16,53.74 182.33,53.51 178.43,53.49 174.48,53.67 170.50,54.06 166.52,54.66 162.54,55.46 158.59,56.46 154.69,57.65 150.86,59.03 147.11,60.59 143.47,62.32 139.95,64.22 136.57,66.28 133.34,68.48 130.29,70.82 127.42,73.28 124.75,75.85 122.30,78.52 120.07,81.28 118.08,84.11 116.33,87.00 114.83,89.94 113.60,92.90 112.64,95.88 111.95,98.87 111.53,101.84 111.39,104.78 111.53,107.68 111.95,110.53 112.64,113.31 113.60,116.00 114.83,118.60 116.33,121.08 118.08,123.45 120.07,125.68 122.30,127.77 124.75,129.71 127.42,131.49 130.29,133.09 133.34,134.51 136.57,135.75 139.95,136.79 143.47,137.63 147.11,138.28 150.86,138.72 154.69,138.95 158.59,138.97 162.54,138.79 166.52,138.40 170.50,137.80 174.48,137.00 178.43,136.00 182.33,134.81 186.16,133.43 189.91,131.87 193.55,130.14 197.07,128.24 200.45,126.18 203.68,123.98 206.73,121.64 209.60,119.18 212.27,116.61 214.72,113.94 216.95,111.18 218.94,108.35 220.69,105.46 222.19,102.52 223.42,99.56 224.38,96.58 225.07,93.59 225.49,90.62" fill="none" stroke="#d01c24" stroke-width="1.05"/>
<polygon points="214.53,101.19 214.38,98.91 213.92,96.75 213.15,94.71 212.08,92.80 210.72,91.02 209.07,89.40 207.14,87.93 204.94,86.63 202.47,85.49 199.76,84.53 196.81,83.75 193.64,83.15 190.27,82.74 186.70,82.52 182.97,82.49 179.07,82.65 175.05,83.00 170.91,83.53 166.67,84.25 162.36,85.15 158.00,86.23 153.60,87.48 149.20,88.89 144.80,90.46 140.44,92.19 136.13,94.05 131.89,96.05 127.75,98.18 123.73,100.42 119.84,102.75 116.10,105.19 112.53,107.70 109.16,110.27 105.99,112.90 103.04,115.58 100.33,118.28 97.86,121.00 95.66,123.72 93.73,126.42 92.08,129.11 90.72,131.75 89.65,134.35 88.88,136.88 88.42,139.34 88.27,141.71 88.42,143.99 88.88,146.15 89.65,148.19 90.72,150.10 92.08,151.88 93.73,153.50 95.66,154.97 97.86,156.27 100.33,157.41 103.04,158.37 105.99,159.15 109.16,159.75 112.53,160.16 116.10,160.38 119.83,160.41 123.73,160.25 127.75,159.90 131.89,159.37 136.13,158.65 140.44,157.75 144.80,156.67 149.20,155.42 153.60,154.01 158.00,152.44 162.36,150.71 166.67,148.85 170.91,146.85 175.05,144.72 179.07,142.48 182.97,140.15 186.70,137.71 190.27,135.20 193.64,132.63 196.81,130.00 199.76,127.32 202.47,124.62 204.94,121.90 207.14,119.18 209.07,116.48 210.72,113.79 212.08,111.15 213.15,108.55 213.92,106.02 214.38,103.56" fill="none" stroke="#d01c24" stroke-width="1.05"/>
<polygon points="219.96,105.81 219.81,102.92 219.38,100.06 218.66,97.22 217.65,94.43 216.36,91.70 214.80,89.03 212.98,86.45 210.89,83.97 208.56,81.59 206.00,79.34 203.21,77.21 200.22,75.23 197.03,73.40 193.66,71.73 190.12,70.22 186.45,68.89 182.64,67.75 178.73,66.79 174.73,66.02 170.65,65.45 166.53,65.08 162.37,64.90 158.21,64.93 154.05,65.16 149.93,65.59 145.85,66.22 141.85,67.04 137.94,68.06 134.13,69.26 130.46,70.64 126.92,72.19 123.55,73.91 120.36,75.78 117.37,77.81 114.58,79.97 112.02,82.26 109.69,84.67 107.60,87.18 105.78,89.79 104.22,92.47 102.93,95.23 101.92,98.03 101.20,100.88 100.77,103.75 100.62,106.63 100.77,109.52 101.20,112.38 101.92,115.22 102.93,118.01 104.22,120.74 105.78,123.41 107.60,125.99 109.69,128.47 112.02,130.85 114.58,133.10 117.37,135.23 120.36,137.21 123.55,139.04 126.92,140.71 130.45,142.22 134.13,143.55 137.94,144.69 141.85,145.65 145.85,146.42 149.93,146.99 154.05,147.36 158.21,147.54 162.37,147.51 166.53,147.28 170.65,146.85 174.73,146.22 178.73,145.40 182.64,144.38 186.45,143.18 190.12,141.80 193.66,140.25 197.03,138.53 200.22,136.66 203.21,134.63 206.00,132.47 208.56,130.18 210.89,127.77 212.98,125.26 214.80,122.65 216.36,119.97 217.65,117.21 218.66,114.41 219.38,111.56 219.81,108.69" fill="none" stroke="#d01c24" stroke-width="1.05"/>
<polyline points="-89.98,559.11 -87.21,553.78 -84.44,548.45 -81.67,543.12 -78.90,537.79 -76.12,532.46 -73.34,527.13 -70.55,521.80 -67.77,516.47 -64.98,511.14 -62.19,505.80 -59.39,500.47 -56.60,495.13 -53.80,489.79 -51.00,484.46 -48.19,479.12 -45.38,473.78 -42.57,468.44 -39.76,463.10 -36.94,457.76 -34.12,452.41 -31.30,447.07 -28.48,441.73 -25.65,436.38 -22.82,431.04 -19.99,425.69 -17.15,420.34 -14.31,415.00 -11.47,409.65 -8.63,404.30 -5.78,398.95 -2.93,393.59 -0.08,388.24 2.78,382.89 5.63,377.53 8.49,372.18 11.36,366.82 14.22,361.47 17.09,356.11 19.97,350.75 22.84,345.39 25.72,340.03 28.60,334.67 31.48,329.31 34.37,323.95 37.26,318.59 40.15,313.22 43.05,307.86 45.94,302.49 48.84,297.12 51.75,291.76 54.65,286.39 57.56,281.02 60.47,275.65 63.39,270.28 66.31,264.91 69.23,259.54 72.15,254.16 75.08,248.79 78.01,243.41 80.94,238.04 83.87,232.66 86.81,227.29 89.75,221.91 92.70,216.53 95.64,211.15 98.59,205.77 101.55,200.39 104.50,195.00 107.46,189.62 110.42,184.24 113.38,178.85 116.35,173.47 119.32,168.08 122.29,162.69 125.27,157.30 128.25,151.92 131.23,146.53 134.22,141.13 137.20,135.74 140.19,130.35 143.19,124.96 146.18,119.56 149.18,114.17 152.18,108.77 155.19,103.38 158.20,97.98 161.21,92.58 164.22,87.18 167.24,81.78 170.26,76.38 173.28,70.98 176.31,65.58 179.34,60.17 182.37,54.77 185.41,49.37 188.44,43.96 191.49,38.55 194.53,33.15 197.58,27.74 200.63,22.33 203.68,16.92 206.74,11.51 209.79,6.10 212.86,0.68 215.92,-4.73 218.99,-10.14 222.06,-15.56 225.13,-20.97 228.21,-26.39 231.29,-31.81 234.38,-37.23 237.46,-42.65 240.55,-48.07 243.64,-53.49 246.74,-58.91 249.84,-64.33 252.94,-69.75 256.04,-75.18 259.15,-80.60 262.26,-86.03 265.37,-91.46 268.49,-96.88 271.61,-102.31 274.73,-107.74 277.86,-113.17 280.99,-118.60 284.12,-124.03 287.26,-129.47 290.40,-134.90 293.54,-140.34 296.68,-145.77 299.83,-151.21 302.98,-156.64 306.13,-162.08 309.29,-167.52 312.45,-172.96 315.61,-178.40 318.78,-183.84 321.95,-189.28 325.12,-194.72 328.30,-200.17 331.48,-205.61 334.66,-211.06 337.84,-216.50 341.03,-221.95 344.22,-227.40 347.42,-232.85 350.62,-238.30 353.82,-243.75 357.02,-249.20" fill="none" stroke="#1c1c8c" stroke-width="3.8"/>
<polyline points="-89.98,559.11 -87.21,553.78 -84.44,548.45 -81.67,543.12 -78.90,537.79 -76.12,532.46 -73.34,527.13 -70.55,521.80 -67.77,516.47 -64.98,511.14 -62.19,505.80 -59.39,500.47 -56.60,495.13 -53.80,489.79 -51.00,484.46 -48.19,479.12 -45.38,473.78 -42.57,468.44 -39.76,463.10 -36.94,457.76 -34.12,452.41 -31.30,447.07 -28.48,441.73 -25.65,436.38 -22.82,431.04 -19.99,425.69 -17.15,420.34 -14.31,415.00 -11.47,409.65 -8.63,404.30 -5.78,398.95 -2.93,393.59 -0.08,388.24 2.78,382.89 5.63,377.53 8.49,372.18 11.36,366.82 14.22,361.47 17.09,356.11 19.97,350.75 22.84,345.39 25.72,340.03 28.60,334.67 31.48,329.31 34.37,323.95 37.26,318.59 40.15,313.22 43.05,307.86 45.94,302.49 48.84,297.12 51.75,291.76 54.65,286.39 57.56,281.02 60.47,275.65 63.39,270.28 66.31,264.91 69.23,259.54 72.15,254.16 75.08,248.79 78.01,243.41 80.94,238.04 83.87,232.66 86.81,227.29 89.75,221.91 92.70,216.53 95.64,211.15 98.59,205.77 101.55,200.39 104.50,195.00 107.46,189.62 110.42,184.24 113.38,178.85 116.35,173.47 119.32,168.08 122.29,162.69 125.27,157.30 128.25,151.92 131.23,146.53 134.22,141.13 137.20,135.74 140.19,130.35 143.19,124.96 146.18,119.56 149.18,114.17 152.18,108.77 155.19,103.38 158.20,97.98 161.21,92.58 164.22,87.18 167.24,81.78 170.26,76.38 173.28,70.98 176.31,65.58 179.34,60.17 182.37,54.77 185.41,49.37 188.44,43.96 191.49,38.55 194.53,33.15 197.58,27.74 200.63,22.33 203.68,16.92 206.74,11.51 209.79,6.10 212.86,0.68 215.92,-4.73 218.99,-10.14 222.06,-15.56 225.13,-20.97 228.21,-26.39 231.29,-31.81 234.38,-37.23 237.46,-42.65 240.55,-48.07 243.64,-53.49 246.74,-58.91 249.84,-64.33 252.94,-69.75 256.04,-75.18 259.15,-80.60 262.26,-86.03 265.37,-91.46 268.49,-96.88 271.61,-102.31 274.73,-107.74 277.86,-113.17 280.99,-118.60 284.12,-124.03 287.26,-129.47 290.40,-134.90 293.54,-140.34 296.68,-145.77 299.83,-151.21 302.98,-156.64 306.13,-162.08 309.29,-167.52 312.45,-172.96 315.61,-178.40 318.78,-183.84 321.95,-189.28 325.12,-194.72 328.30,-200.17 331.48,-205.61 334.66,-211.06 337.84,-216.50 341.03,-221.95 344.22,-227.40 347.42,-232.85 350.62,-238.30 353.82,-243.75 357.02,-249.20" fill="none" stroke="#fff" stroke-opacity="1" stroke-width="1.4"/>
<ellipse cx="155.2" cy="108" rx="8" ry="4.6" transform="rotate(-20 155.2 108)" fill="none" stroke="#6a8e96" stroke-width="1.8"/>
</g>
<text x="94" y="183" style="font-family:'Liberation Sans',Arial,sans-serif;font-size:8.7px;letter-spacing:-0.4px" fill="#333" stroke="#333" stroke-width="0.2">220</text>
<text x="125.5" y="129.8" style="font-family:'Liberation Sans',Arial,sans-serif;font-size:8.7px;letter-spacing:-0.4px" fill="#333" stroke="#333" stroke-width="0.2">230</text>
<text x="155.5" y="75.6" style="font-family:'Liberation Sans',Arial,sans-serif;font-size:8.7px;letter-spacing:-0.4px" fill="#333" stroke="#333" stroke-width="0.2">240</text>
<text x="186" y="21.1" style="font-family:'Liberation Sans',Arial,sans-serif;font-size:8.7px;letter-spacing:-0.4px" fill="#333" stroke="#333" stroke-width="0.2">250</text>
<rect x="57.3" y="7" width="218.0" height="184.5" fill="none" stroke="#3a3a3a" stroke-width="1.3"/>
<path d="M57.30,191.5v-3M81.52,191.5v-3M105.74,191.5v-3M129.97,191.5v-3M154.19,191.5v-3M178.41,191.5v-3M202.63,191.5v-3M226.86,191.5v-3M251.08,191.5v-3M275.30,191.5v-3M57.3,191.50h3M57.3,174.73h3M57.3,157.95h3M57.3,141.18h3M57.3,124.41h3M57.3,107.64h3M57.3,90.86h3M57.3,74.09h3M57.3,57.32h3M57.3,40.55h3M57.3,23.77h3M57.3,7.00h3" stroke="#3a3a3a" stroke-width="1" fill="none"/>
<text x="56.30" y="203.6" text-anchor="middle" style="font-family:'Liberation Sans',Arial,sans-serif;font-size:9.2px;letter-spacing:-0.45px" fill="#1a1a1a" stroke="#1a1a1a" stroke-width="0.3">0.22</text>
<text x="104.74" y="203.6" text-anchor="middle" style="font-family:'Liberation Sans',Arial,sans-serif;font-size:9.2px;letter-spacing:-0.45px" fill="#1a1a1a" stroke="#1a1a1a" stroke-width="0.3">0.24</text>
<text x="153.19" y="203.6" text-anchor="middle" style="font-family:'Liberation Sans',Arial,sans-serif;font-size:9.2px;letter-spacing:-0.45px" fill="#1a1a1a" stroke="#1a1a1a" stroke-width="0.3">0.26</text>
<text x="201.63" y="203.6" text-anchor="middle" style="font-family:'Liberation Sans',Arial,sans-serif;font-size:9.2px;letter-spacing:-0.45px" fill="#1a1a1a" stroke="#1a1a1a" stroke-width="0.3">0.28</text>
<text x="250.08" y="203.6" text-anchor="middle" style="font-family:'Liberation Sans',Arial,sans-serif;font-size:9.2px;letter-spacing:-0.45px" fill="#1a1a1a" stroke="#1a1a1a" stroke-width="0.3">0.30</text>
<text x="50.3" y="194.70" text-anchor="end" style="font-family:'Liberation Sans',Arial,sans-serif;font-size:9.2px;letter-spacing:-0.45px" fill="#1a1a1a" stroke="#1a1a1a" stroke-width="0.3">0.0345</text>
<text x="50.3" y="161.15" text-anchor="end" style="font-family:'Liberation Sans',Arial,sans-serif;font-size:9.2px;letter-spacing:-0.45px" fill="#1a1a1a" stroke="#1a1a1a" stroke-width="0.3">0.0355</text>
<text x="50.3" y="127.61" text-anchor="end" style="font-family:'Liberation Sans',Arial,sans-serif;font-size:9.2px;letter-spacing:-0.45px" fill="#1a1a1a" stroke="#1a1a1a" stroke-width="0.3">0.0365</text>
<text x="50.3" y="94.06" text-anchor="end" style="font-family:'Liberation Sans',Arial,sans-serif;font-size:9.2px;letter-spacing:-0.45px" fill="#1a1a1a" stroke="#1a1a1a" stroke-width="0.3">0.0375</text>
<text x="50.3" y="60.52" text-anchor="end" style="font-family:'Liberation Sans',Arial,sans-serif;font-size:9.2px;letter-spacing:-0.45px" fill="#1a1a1a" stroke="#1a1a1a" stroke-width="0.3">0.0385</text>
<text x="50.3" y="26.97" text-anchor="end" style="font-family:'Liberation Sans',Arial,sans-serif;font-size:9.2px;letter-spacing:-0.45px" fill="#1a1a1a" stroke="#1a1a1a" stroke-width="0.3">0.0395</text>
<text x="147" y="218" style="font-family:'Liberation Sans',Arial,sans-serif;font-size:10.2px" fill="#222"><tspan style="font-size:6.4px" dy="-4">207</tspan><tspan dy="4">Pb/</tspan><tspan style="font-size:6.4px" dy="-4">235</tspan><tspan dy="4">U</tspan></text>
<text transform="translate(18.8,85.3) rotate(-90)" text-anchor="middle" style="font-family:'Liberation Sans',Arial,sans-serif;font-size:13.2px" fill="#222"><tspan style="font-size:8px" dy="-5.3">206</tspan><tspan dy="5.3">Pb/</tspan><tspan style="font-size:8px" dy="-5.3">238</tspan><tspan dy="5.3">U</tspan></text>
<text x="71.3" y="28.2" style="font-family:'Liberation Sans',Arial,sans-serif;font-size:10px" fill="#2a2a2a" stroke="#2a2a2a" stroke-width="0.2">L20617-9</text>
<text x="71.3" y="38.6" style="font-family:'Liberation Sans',Arial,sans-serif;font-size:10px" fill="#2a2a2a" stroke="#2a2a2a" stroke-width="0.2">Granite porphyry</text>
<clipPath id="c2"><rect x="57.3" y="221.3" width="217.89999999999998" height="184.89999999999998"/></clipPath>
<g clip-path="url(#c2)">
<polygon points="198.41,314.58 198.29,312.36 197.94,310.22 197.36,308.18 196.55,306.24 195.51,304.42 194.25,302.73 192.78,301.17 191.10,299.75 189.22,298.47 187.15,297.35 184.90,296.39 182.48,295.59 179.91,294.97 177.19,294.51 174.34,294.22 171.37,294.11 168.30,294.18 165.15,294.41 161.92,294.83 158.63,295.41 155.30,296.16 151.95,297.08 148.59,298.16 145.24,299.39 141.91,300.78 138.62,302.30 135.39,303.96 132.24,305.75 129.17,307.65 126.20,309.67 123.35,311.78 120.63,313.98 118.06,316.27 115.64,318.61 113.39,321.02 111.32,323.46 109.44,325.94 107.76,328.44 106.29,330.95 105.03,333.45 103.99,335.94 103.18,338.40 102.60,340.81 102.25,343.18 102.13,345.48 102.25,347.70 102.60,349.84 103.18,351.88 103.99,353.82 105.03,355.64 106.29,357.33 107.76,358.89 109.44,360.31 111.32,361.59 113.39,362.71 115.64,363.67 118.06,364.47 120.63,365.09 123.35,365.55 126.20,365.84 129.17,365.95 132.24,365.88 135.39,365.65 138.62,365.23 141.91,364.65 145.24,363.90 148.59,362.98 151.95,361.90 155.30,360.67 158.63,359.28 161.92,357.76 165.15,356.10 168.30,354.31 171.37,352.41 174.34,350.39 177.19,348.28 179.91,346.08 182.48,343.79 184.90,341.45 187.15,339.04 189.22,336.60 191.10,334.12 192.78,331.62 194.25,329.11 195.51,326.61 196.55,324.12 197.36,321.66 197.94,319.25 198.29,316.88" fill="none" stroke="#d01c24" stroke-width="1.05"/>
<polygon points="216.52,325.80 216.39,323.15 215.99,320.54 215.33,317.99 214.40,315.52 213.23,313.12 211.80,310.82 210.13,308.62 208.22,306.54 206.09,304.58 203.74,302.76 201.19,301.09 198.44,299.56 195.52,298.20 192.44,297.00 189.20,295.98 185.84,295.13 182.35,294.47 178.77,293.99 175.11,293.69 171.38,293.59 167.60,293.67 163.80,293.95 159.98,294.41 156.18,295.05 152.40,295.88 148.67,296.89 145.01,298.07 141.43,299.41 137.94,300.92 134.57,302.58 131.34,304.38 128.26,306.32 125.34,308.39 122.59,310.58 120.04,312.87 117.69,315.26 115.56,317.73 113.65,320.27 111.98,322.87 110.55,325.52 109.38,328.20 108.45,330.90 107.79,333.61 107.39,336.31 107.26,339.00 107.39,341.65 107.79,344.26 108.45,346.81 109.38,349.28 110.55,351.68 111.98,353.98 113.65,356.18 115.56,358.26 117.69,360.22 120.04,362.04 122.59,363.71 125.34,365.24 128.26,366.60 131.34,367.80 134.57,368.82 137.94,369.67 141.43,370.33 145.01,370.81 148.67,371.11 152.40,371.21 156.18,371.13 159.98,370.85 163.80,370.39 167.60,369.75 171.38,368.92 175.11,367.91 178.77,366.73 182.35,365.39 185.84,363.88 189.20,362.22 192.44,360.42 195.52,358.48 198.44,356.41 201.19,354.22 203.74,351.93 206.09,349.54 208.22,347.07 210.13,344.53 211.80,341.93 213.23,339.28 214.40,336.60 215.33,333.90 215.99,331.19 216.39,328.49" fill="none" stroke="#d01c24" stroke-width="1.05"/>
<polygon points="203.85,285.47 203.76,282.89 203.48,280.41 203.01,278.05 202.36,275.80 201.53,273.69 200.53,271.73 199.35,269.92 198.01,268.27 196.51,266.80 194.86,265.50 193.07,264.38 191.14,263.46 189.08,262.73 186.91,262.20 184.64,261.87 182.27,261.74 179.82,261.82 177.30,262.09 174.72,262.57 172.10,263.25 169.45,264.12 166.77,265.18 164.09,266.43 161.41,267.86 158.76,269.46 156.14,271.23 153.56,273.16 151.04,275.23 148.59,277.44 146.22,279.77 143.95,282.22 141.78,284.77 139.72,287.42 137.79,290.14 136.00,292.92 134.35,295.76 132.85,298.63 131.51,301.53 130.33,304.44 129.33,307.34 128.50,310.22 127.85,313.07 127.38,315.87 127.10,318.61 127.01,321.27 127.10,323.85 127.38,326.33 127.85,328.69 128.50,330.94 129.33,333.05 130.33,335.01 131.51,336.82 132.85,338.47 134.35,339.94 136.00,341.24 137.79,342.36 139.72,343.28 141.78,344.01 143.95,344.54 146.22,344.87 148.59,345.00 151.04,344.92 153.56,344.65 156.14,344.17 158.76,343.49 161.41,342.62 164.09,341.56 166.77,340.31 169.45,338.88 172.10,337.28 174.72,335.51 177.30,333.58 179.82,331.51 182.27,329.30 184.64,326.97 186.91,324.52 189.08,321.97 191.14,319.32 193.07,316.60 194.86,313.82 196.51,310.98 198.01,308.11 199.35,305.21 200.53,302.30 201.53,299.40 202.36,296.52 203.01,293.67 203.48,290.87 203.76,288.13" fill="none" stroke="#d01c24" stroke-width="1.05"/>
<polygon points="218.60,310.33 218.48,308.48 218.13,306.75 217.55,305.13 216.74,303.63 215.70,302.25 214.44,301.02 212.97,299.93 211.29,298.98 209.41,298.18 207.34,297.54 205.09,297.06 202.68,296.74 200.11,296.59 197.39,296.59 194.54,296.76 191.57,297.10 188.51,297.59 185.35,298.24 182.12,299.05 178.84,300.01 175.51,301.11 172.16,302.36 168.80,303.74 165.45,305.25 162.12,306.88 158.84,308.62 155.61,310.47 152.45,312.42 149.39,314.45 146.42,316.56 143.57,318.73 140.85,320.96 138.28,323.23 135.87,325.54 133.62,327.87 131.55,330.21 129.67,332.55 127.99,334.88 126.52,337.19 125.26,339.46 124.22,341.68 123.41,343.85 122.83,345.95 122.48,347.98 122.36,349.91 122.48,351.76 122.83,353.49 123.41,355.11 124.22,356.61 125.26,357.99 126.52,359.22 127.99,360.31 129.67,361.26 131.55,362.06 133.62,362.70 135.87,363.18 138.28,363.50 140.85,363.65 143.57,363.65 146.42,363.48 149.39,363.14 152.45,362.65 155.61,362.00 158.84,361.19 162.12,360.23 165.45,359.13 168.80,357.88 172.16,356.50 175.51,354.99 178.84,353.36 182.12,351.62 185.35,349.77 188.51,347.82 191.57,345.79 194.54,343.68 197.39,341.51 200.11,339.28 202.68,337.01 205.09,334.70 207.34,332.37 209.41,330.03 211.29,327.69 212.97,325.36 214.44,323.05 215.70,320.78 216.74,318.56 217.55,316.39 218.13,314.29 218.48,312.26" fill="none" stroke="#d01c24" stroke-width="1.05"/>
<polygon points="214.40,289.53 214.29,286.75 213.97,284.04 213.44,281.40 212.71,278.87 211.76,276.44 210.62,274.12 209.28,271.94 207.75,269.90 206.05,268.01 204.17,266.28 202.12,264.72 199.93,263.33 197.59,262.13 195.12,261.11 192.53,260.29 189.83,259.67 187.05,259.25 184.18,259.02 181.24,259.01 178.26,259.19 175.23,259.58 172.19,260.17 169.13,260.96 166.09,261.95 163.06,263.12 160.08,264.47 157.14,266.01 154.27,267.71 151.49,269.57 148.79,271.59 146.20,273.75 143.73,276.04 141.39,278.45 139.20,280.97 137.15,283.59 135.27,286.29 133.57,289.06 132.04,291.89 130.70,294.76 129.56,297.67 128.61,300.58 127.88,303.50 127.35,306.41 127.03,309.29 126.92,312.13 127.03,314.91 127.35,317.62 127.88,320.26 128.61,322.79 129.56,325.22 130.70,327.54 132.04,329.72 133.57,331.76 135.27,333.65 137.15,335.38 139.20,336.94 141.39,338.33 143.73,339.53 146.20,340.55 148.79,341.37 151.49,341.99 154.27,342.41 157.14,342.64 160.08,342.65 163.06,342.47 166.09,342.08 169.13,341.49 172.19,340.70 175.23,339.71 178.26,338.54 181.24,337.19 184.18,335.65 187.05,333.95 189.83,332.09 192.53,330.07 195.12,327.91 197.59,325.62 199.93,323.21 202.12,320.69 204.17,318.07 206.05,315.37 207.75,312.60 209.28,309.77 210.62,306.90 211.76,303.99 212.71,301.08 213.44,298.16 213.97,295.25 214.29,292.37" fill="none" stroke="#d01c24" stroke-width="1.05"/>
<polygon points="216.68,310.65 216.56,308.89 216.21,307.24 215.61,305.69 214.79,304.26 213.74,302.95 212.47,301.77 210.97,300.73 209.27,299.83 207.37,299.07 205.27,298.46 203.00,298.00 200.55,297.70 197.94,297.55 195.19,297.55 192.31,297.71 189.30,298.03 186.19,298.50 182.99,299.12 179.72,299.89 176.40,300.81 173.03,301.86 169.63,303.05 166.23,304.37 162.83,305.81 159.46,307.36 156.14,309.03 152.87,310.79 149.67,312.65 146.56,314.58 143.56,316.59 140.67,318.67 137.92,320.79 135.31,322.96 132.86,325.16 130.59,327.39 128.49,329.62 126.59,331.85 124.89,334.07 123.39,336.27 122.12,338.43 121.07,340.56 120.25,342.63 119.65,344.63 119.30,346.56 119.18,348.41 119.30,350.17 119.65,351.82 120.25,353.37 121.07,354.80 122.12,356.11 123.39,357.29 124.89,358.33 126.59,359.23 128.49,359.99 130.59,360.60 132.86,361.06 135.31,361.36 137.92,361.51 140.67,361.51 143.55,361.35 146.56,361.03 149.67,360.56 152.87,359.94 156.14,359.17 159.46,358.25 162.83,357.20 166.23,356.01 169.63,354.69 173.03,353.25 176.40,351.70 179.72,350.03 182.99,348.27 186.19,346.41 189.30,344.48 192.31,342.47 195.19,340.39 197.94,338.27 200.55,336.10 203.00,333.90 205.27,331.67 207.37,329.44 209.27,327.21 210.97,324.99 212.47,322.79 213.74,320.63 214.79,318.50 215.61,316.43 216.21,314.43 216.56,312.50" fill="none" stroke="#d01c24" stroke-width="1.05"/>
<polygon points="221.86,290.54 221.74,288.29 221.38,286.07 220.78,283.88 219.95,281.74 218.89,279.66 217.60,277.65 216.09,275.71 214.37,273.86 212.45,272.10 210.33,270.45 208.03,268.91 205.56,267.49 202.92,266.19 200.14,265.03 197.23,264.01 194.19,263.13 191.05,262.40 187.82,261.82 184.51,261.40 181.15,261.13 177.74,261.01 174.31,261.06 170.87,261.26 167.44,261.62 164.03,262.14 160.67,262.81 157.36,263.63 154.13,264.59 150.99,265.69 147.96,266.93 145.04,268.30 142.26,269.79 139.62,271.40 137.15,273.11 134.85,274.92 132.73,276.83 130.81,278.81 129.09,280.87 127.58,282.98 126.29,285.15 125.23,287.36 124.40,289.60 123.80,291.85 123.44,294.12 123.32,296.38 123.44,298.63 123.80,300.85 124.40,303.04 125.23,305.18 126.29,307.26 127.58,309.27 129.09,311.21 130.81,313.06 132.73,314.82 134.85,316.47 137.15,318.01 139.62,319.43 142.26,320.73 145.04,321.89 147.95,322.91 150.99,323.79 154.13,324.52 157.36,325.10 160.67,325.52 164.03,325.79 167.44,325.91 170.87,325.86 174.31,325.66 177.74,325.30 181.15,324.78 184.51,324.11 187.82,323.29 191.05,322.33 194.19,321.23 197.23,319.99 200.14,318.62 202.92,317.13 205.56,315.52 208.03,313.81 210.33,312.00 212.45,310.09 214.37,308.11 216.09,306.05 217.60,303.94 218.89,301.77 219.95,299.56 220.78,297.32 221.38,295.07 221.74,292.80" fill="none" stroke="#d01c24" stroke-width="1.05"/>
<polygon points="222.25,272.36 222.13,269.77 221.78,267.25 221.19,264.80 220.37,262.45 219.32,260.19 218.05,258.05 216.56,256.03 214.87,254.15 212.97,252.40 210.88,250.81 208.61,249.38 206.17,248.11 203.57,247.01 200.83,246.09 197.96,245.35 194.96,244.79 191.86,244.43 188.68,244.25 185.41,244.26 182.10,244.46 178.74,244.85 175.36,245.43 171.96,246.20 168.58,247.14 165.22,248.26 161.91,249.55 158.64,251.01 155.46,252.62 152.36,254.38 149.37,256.29 146.49,258.32 143.75,260.48 141.15,262.75 138.71,265.11 136.44,267.57 134.35,270.10 132.45,272.70 130.76,275.35 129.27,278.04 128.00,280.75 126.95,283.48 126.13,286.20 125.54,288.91 125.19,291.60 125.07,294.24 125.19,296.83 125.54,299.35 126.13,301.80 126.95,304.15 128.00,306.41 129.27,308.55 130.76,310.57 132.45,312.45 134.35,314.20 136.44,315.79 138.71,317.22 141.15,318.49 143.75,319.59 146.49,320.51 149.36,321.25 152.36,321.81 155.46,322.17 158.64,322.35 161.91,322.34 165.22,322.14 168.58,321.75 171.96,321.17 175.36,320.40 178.74,319.46 182.10,318.34 185.41,317.05 188.68,315.59 191.86,313.98 194.96,312.22 197.96,310.31 200.83,308.28 203.57,306.12 206.17,303.85 208.61,301.49 210.88,299.03 212.97,296.50 214.87,293.90 216.56,291.25 218.05,288.56 219.32,285.85 220.37,283.12 221.19,280.40 221.78,277.69 222.13,275.00" fill="none" stroke="#d01c24" stroke-width="1.05"/>
<polygon points="210.62,311.69 210.51,309.60 210.18,307.64 209.62,305.82 208.85,304.16 207.87,302.65 206.68,301.30 205.28,300.13 203.69,299.14 201.91,298.33 199.94,297.71 197.81,297.28 195.52,297.04 193.08,297.00 190.51,297.14 187.81,297.48 184.99,298.02 182.08,298.74 179.09,299.64 176.03,300.73 172.91,301.99 169.76,303.42 166.58,305.01 163.40,306.76 160.22,308.65 157.07,310.68 153.95,312.84 150.89,315.11 147.90,317.49 144.99,319.96 142.18,322.51 139.47,325.14 136.90,327.82 134.46,330.54 132.17,333.29 130.04,336.06 128.07,338.83 126.29,341.60 124.70,344.33 123.30,347.04 122.11,349.69 121.13,352.28 120.36,354.79 119.80,357.21 119.47,359.54 119.36,361.75 119.47,363.84 119.80,365.80 120.36,367.62 121.13,369.28 122.11,370.79 123.30,372.14 124.70,373.31 126.29,374.30 128.07,375.11 130.04,375.73 132.17,376.16 134.46,376.40 136.90,376.44 139.47,376.30 142.17,375.96 144.99,375.42 147.90,374.70 150.89,373.80 153.95,372.71 157.07,371.45 160.22,370.02 163.40,368.43 166.58,366.68 169.76,364.79 172.91,362.76 176.03,360.60 179.09,358.33 182.08,355.95 184.99,353.48 187.81,350.93 190.51,348.30 193.08,345.62 195.52,342.90 197.81,340.15 199.94,337.38 201.91,334.61 203.69,331.84 205.28,329.11 206.68,326.40 207.87,323.75 208.85,321.16 209.62,318.65 210.18,316.23 210.51,313.90" fill="none" stroke="#d01c24" stroke-width="1.05"/>
<polygon points="221.19,289.89 221.08,287.29 220.74,284.73 220.18,282.22 219.39,279.78 218.39,277.41 217.18,275.13 215.76,272.96 214.14,270.89 212.33,268.94 210.33,267.12 208.17,265.44 205.84,263.91 203.36,262.53 200.74,261.32 197.99,260.27 195.13,259.39 192.17,258.69 189.13,258.17 186.02,257.83 182.85,257.67 179.64,257.70 176.41,257.91 173.17,258.31 169.94,258.89 166.73,259.65 163.56,260.58 160.45,261.68 157.41,262.95 154.45,264.38 151.59,265.96 148.84,267.68 146.22,269.54 143.74,271.52 141.41,273.63 139.25,275.84 137.25,278.15 135.44,280.54 133.82,283.00 132.40,285.53 131.19,288.10 130.19,290.71 129.40,293.35 128.84,295.99 128.50,298.64 128.39,301.27 128.50,303.87 128.84,306.43 129.40,308.94 130.19,311.38 131.19,313.75 132.40,316.03 133.82,318.20 135.44,320.27 137.25,322.22 139.25,324.04 141.41,325.72 143.74,327.25 146.22,328.63 148.84,329.84 151.59,330.89 154.45,331.77 157.41,332.47 160.45,332.99 163.56,333.33 166.73,333.49 169.94,333.46 173.17,333.25 176.41,332.85 179.64,332.27 182.85,331.51 186.02,330.58 189.13,329.48 192.17,328.21 195.13,326.78 197.99,325.20 200.74,323.48 203.36,321.62 205.84,319.64 208.17,317.53 210.33,315.32 212.33,313.01 214.14,310.62 215.76,308.16 217.18,305.63 218.39,303.06 219.39,300.45 220.18,297.81 220.74,295.17 221.08,292.52" fill="none" stroke="#d01c24" stroke-width="1.05"/>
<polygon points="226.25,294.91 226.12,292.86 225.74,290.86 225.11,288.95 224.24,287.12 223.11,285.39 221.75,283.77 220.16,282.25 218.35,280.86 216.32,279.59 214.08,278.46 211.66,277.46 209.04,276.61 206.26,275.90 203.33,275.35 200.25,274.95 197.05,274.70 193.73,274.61 190.32,274.68 186.83,274.90 183.28,275.28 179.69,275.81 176.06,276.50 172.44,277.33 168.81,278.31 165.22,279.42 161.67,280.67 158.18,282.05 154.77,283.54 151.45,285.16 148.25,286.87 145.17,288.68 142.24,290.59 139.46,292.57 136.84,294.62 134.42,296.73 132.18,298.89 130.15,301.09 128.34,303.31 126.75,305.56 125.39,307.80 124.26,310.05 123.39,312.28 122.76,314.48 122.38,316.65 122.25,318.77 122.38,320.82 122.76,322.82 123.39,324.73 124.26,326.56 125.39,328.29 126.75,329.91 128.34,331.43 130.15,332.82 132.18,334.09 134.42,335.22 136.84,336.22 139.46,337.07 142.24,337.78 145.17,338.33 148.25,338.73 151.45,338.98 154.77,339.07 158.18,339.00 161.67,338.78 165.22,338.40 168.81,337.87 172.44,337.18 176.06,336.35 179.69,335.37 183.28,334.26 186.83,333.01 190.32,331.63 193.73,330.14 197.05,328.52 200.25,326.81 203.33,325.00 206.26,323.09 209.04,321.11 211.66,319.06 214.08,316.95 216.32,314.79 218.35,312.59 220.16,310.37 221.75,308.12 223.11,305.88 224.24,303.63 225.11,301.40 225.74,299.20 226.12,297.03" fill="none" stroke="#d01c24" stroke-width="1.05"/>
<polygon points="223.00,286.79 222.89,284.44 222.57,282.12 222.03,279.85 221.27,277.64 220.31,275.50 219.14,273.44 217.78,271.47 216.22,269.60 214.48,267.84 212.57,266.19 210.48,264.67 208.24,263.29 205.86,262.04 203.34,260.94 200.70,259.99 197.95,259.20 195.11,258.56 192.18,258.09 189.19,257.78 186.14,257.64 183.06,257.67 179.96,257.86 176.84,258.22 173.74,258.74 170.66,259.43 167.61,260.27 164.62,261.27 161.69,262.42 158.85,263.71 156.10,265.14 153.46,266.70 150.94,268.38 148.56,270.17 146.32,272.08 144.23,274.08 142.32,276.16 140.58,278.33 139.02,280.56 137.66,282.84 136.49,285.17 135.53,287.54 134.77,289.92 134.23,292.32 133.91,294.71 133.80,297.09 133.91,299.44 134.23,301.76 134.77,304.03 135.53,306.24 136.49,308.38 137.66,310.44 139.02,312.41 140.58,314.28 142.32,316.04 144.23,317.69 146.32,319.21 148.56,320.59 150.94,321.84 153.46,322.94 156.10,323.89 158.85,324.68 161.69,325.32 164.62,325.79 167.61,326.10 170.66,326.24 173.74,326.21 176.84,326.02 179.96,325.66 183.06,325.14 186.14,324.45 189.19,323.61 192.18,322.61 195.11,321.46 197.95,320.17 200.70,318.74 203.34,317.18 205.86,315.50 208.24,313.71 210.48,311.80 212.57,309.80 214.48,307.72 216.22,305.55 217.78,303.32 219.14,301.04 220.31,298.71 221.27,296.34 222.03,293.96 222.57,291.56 222.89,289.17" fill="none" stroke="#d01c24" stroke-width="1.05"/>
<polygon points="215.73,288.89 215.61,286.65 215.27,284.49 214.69,282.41 213.89,280.42 212.86,278.53 211.62,276.75 210.16,275.08 208.50,273.55 206.64,272.14 204.60,270.88 202.37,269.76 199.98,268.80 197.44,267.99 194.75,267.35 191.94,266.87 189.00,266.55 185.97,266.40 182.85,266.42 179.65,266.61 176.40,266.97 173.11,267.49 169.80,268.18 166.48,269.02 163.17,270.02 159.88,271.18 156.63,272.47 153.43,273.91 150.31,275.48 147.28,277.17 144.34,278.98 141.53,280.90 138.84,282.91 136.30,285.01 133.91,287.19 131.68,289.44 129.64,291.74 127.78,294.09 126.12,296.47 124.66,298.88 123.42,301.29 122.39,303.71 121.59,306.11 121.01,308.48 120.67,310.82 120.55,313.11 120.67,315.35 121.01,317.51 121.59,319.59 122.39,321.58 123.42,323.47 124.66,325.25 126.12,326.92 127.78,328.45 129.64,329.86 131.68,331.12 133.91,332.24 136.30,333.20 138.84,334.01 141.53,334.65 144.34,335.13 147.28,335.45 150.31,335.60 153.43,335.58 156.63,335.39 159.88,335.03 163.17,334.51 166.48,333.82 169.80,332.98 173.11,331.98 176.40,330.82 179.65,329.53 182.85,328.09 185.97,326.52 189.00,324.83 191.94,323.02 194.75,321.10 197.44,319.09 199.98,316.99 202.37,314.81 204.60,312.56 206.64,310.26 208.50,307.91 210.16,305.53 211.62,303.12 212.86,300.71 213.89,298.29 214.69,295.89 215.27,293.52 215.61,291.18" fill="none" stroke="#d01c24" stroke-width="1.05"/>
<polygon points="245.26,267.28 245.13,264.91 244.75,262.63 244.11,260.44 243.22,258.37 242.09,256.41 240.71,254.59 239.10,252.90 237.26,251.35 235.21,249.96 232.95,248.73 230.49,247.66 227.85,246.77 225.04,246.05 222.06,245.51 218.95,245.15 215.71,244.98 212.35,244.99 208.90,245.18 205.37,245.56 201.78,246.12 198.14,246.85 194.48,247.77 190.80,248.85 187.14,250.10 183.50,251.50 179.91,253.06 176.38,254.77 172.93,256.61 169.57,258.58 166.33,260.66 163.22,262.86 160.24,265.15 157.43,267.53 154.79,269.98 152.33,272.49 150.07,275.06 148.02,277.66 146.18,280.29 144.57,282.93 143.19,285.56 142.06,288.19 141.17,290.79 140.53,293.35 140.15,295.86 140.02,298.30 140.15,300.67 140.53,302.95 141.17,305.14 142.06,307.21 143.19,309.17 144.57,310.99 146.18,312.68 148.02,314.23 150.07,315.62 152.33,316.85 154.79,317.92 157.43,318.81 160.24,319.53 163.22,320.07 166.33,320.43 169.57,320.60 172.93,320.59 176.38,320.40 179.91,320.02 183.50,319.46 187.14,318.73 190.80,317.81 194.48,316.73 198.14,315.48 201.78,314.08 205.37,312.52 208.90,310.81 212.35,308.97 215.71,307.00 218.95,304.92 222.06,302.72 225.04,300.43 227.85,298.05 230.49,295.60 232.95,293.09 235.21,290.52 237.26,287.92 239.10,285.29 240.71,282.65 242.09,280.02 243.22,277.39 244.11,274.79 244.75,272.23 245.13,269.72" fill="none" stroke="#d01c24" stroke-width="1.05"/>
<polygon points="245.76,275.89 245.61,272.94 245.17,270.07 244.43,267.30 243.40,264.65 242.09,262.11 240.49,259.71 238.63,257.45 236.50,255.36 234.13,253.43 231.51,251.68 228.66,250.11 225.60,248.74 222.35,247.56 218.91,246.60 215.30,245.84 211.55,245.30 207.66,244.98 203.67,244.87 199.58,244.98 195.42,245.31 191.21,245.86 186.97,246.62 182.71,247.60 178.47,248.78 174.26,250.15 170.10,251.72 166.01,253.48 162.02,255.42 158.13,257.52 154.38,259.78 150.77,262.18 147.33,264.72 144.08,267.39 141.02,270.16 138.17,273.02 135.55,275.97 133.18,278.99 131.05,282.06 129.19,285.17 127.59,288.30 126.28,291.44 125.25,294.56 124.51,297.67 124.07,300.74 123.92,303.75 124.07,306.70 124.51,309.57 125.25,312.34 126.28,314.99 127.59,317.53 129.19,319.93 131.05,322.19 133.18,324.28 135.55,326.21 138.17,327.96 141.02,329.53 144.08,330.90 147.33,332.08 150.77,333.04 154.38,333.80 158.13,334.34 162.02,334.66 166.01,334.77 170.10,334.66 174.26,334.33 178.47,333.78 182.71,333.02 186.97,332.04 191.21,330.86 195.42,329.49 199.58,327.92 203.67,326.16 207.66,324.22 211.55,322.12 215.30,319.86 218.91,317.46 222.35,314.92 225.60,312.25 228.66,309.48 231.51,306.62 234.13,303.67 236.50,300.65 238.63,297.58 240.49,294.47 242.09,291.34 243.40,288.20 244.43,285.08 245.17,281.97 245.61,278.90" fill="none" stroke="#d01c24" stroke-width="1.05"/>
<polygon points="220.42,273.88 220.30,271.35 219.95,268.88 219.36,266.49 218.55,264.18 217.51,261.97 216.24,259.87 214.77,257.89 213.08,256.03 211.20,254.31 209.12,252.74 206.86,251.32 204.44,250.06 201.86,248.96 199.13,248.04 196.27,247.29 193.29,246.73 190.21,246.34 187.05,246.14 183.80,246.13 180.51,246.30 177.17,246.65 173.81,247.19 170.43,247.90 167.07,248.80 163.73,249.86 160.44,251.10 157.19,252.49 154.03,254.04 150.95,255.73 147.97,257.57 145.11,259.53 142.38,261.61 139.80,263.80 137.38,266.09 135.12,268.47 133.04,270.93 131.16,273.45 129.47,276.02 128.00,278.64 126.73,281.27 125.69,283.93 124.88,286.58 124.29,289.22 123.94,291.84 123.82,294.42 123.94,296.95 124.29,299.42 124.88,301.81 125.69,304.12 126.73,306.33 128.00,308.43 129.47,310.41 131.16,312.27 133.04,313.99 135.12,315.56 137.38,316.98 139.80,318.24 142.38,319.34 145.11,320.26 147.97,321.01 150.95,321.57 154.03,321.96 157.19,322.16 160.44,322.17 163.73,322.00 167.07,321.65 170.43,321.11 173.81,320.40 177.17,319.50 180.51,318.44 183.80,317.20 187.05,315.81 190.21,314.26 193.29,312.57 196.27,310.73 199.13,308.77 201.86,306.69 204.44,304.50 206.86,302.21 209.12,299.83 211.20,297.37 213.08,294.85 214.77,292.28 216.24,289.66 217.51,287.03 218.55,284.37 219.36,281.72 219.95,279.08 220.30,276.46" fill="none" stroke="#d01c24" stroke-width="1.05"/>
<polygon points="224.16,262.09 224.04,259.97 223.68,257.93 223.09,256.01 222.26,254.21 221.20,252.53 219.91,250.98 218.41,249.58 216.69,248.32 214.78,247.22 212.66,246.28 210.37,245.50 207.90,244.90 205.27,244.46 202.50,244.20 199.59,244.11 196.56,244.20 193.43,244.46 190.21,244.90 186.91,245.50 183.55,246.28 180.16,247.22 176.73,248.32 173.31,249.58 169.88,250.98 166.49,252.53 163.13,254.21 159.83,256.01 156.61,257.93 153.48,259.97 150.45,262.09 147.54,264.31 144.77,266.61 142.14,268.96 139.67,271.38 137.38,273.83 135.26,276.32 133.35,278.82 131.63,281.34 130.13,283.84 128.84,286.33 127.78,288.78 126.95,291.20 126.36,293.55 126.00,295.85 125.88,298.06 126.00,300.19 126.36,302.23 126.95,304.15 127.78,305.95 128.84,307.63 130.13,309.18 131.63,310.58 133.35,311.84 135.26,312.94 137.38,313.88 139.67,314.66 142.14,315.26 144.77,315.70 147.54,315.96 150.45,316.05 153.48,315.96 156.61,315.70 159.83,315.26 163.13,314.66 166.49,313.88 169.88,312.94 173.31,311.84 176.73,310.58 180.16,309.18 183.55,307.63 186.91,305.95 190.21,304.15 193.43,302.23 196.56,300.19 199.59,298.06 202.50,295.85 205.27,293.55 207.90,291.20 210.37,288.78 212.66,286.33 214.78,283.84 216.69,281.34 218.41,278.82 219.91,276.32 221.20,273.83 222.26,271.38 223.09,268.96 223.68,266.61 224.04,264.31" fill="none" stroke="#d01c24" stroke-width="1.05"/>
<polygon points="256.05,327.49 255.84,325.14 255.19,322.83 254.13,320.57 252.64,318.38 250.74,316.26 248.44,314.22 245.75,312.27 242.68,310.43 239.24,308.69 235.46,307.08 231.35,305.60 226.93,304.25 222.23,303.04 217.26,301.98 212.05,301.08 206.63,300.33 201.02,299.74 195.24,299.31 189.34,299.05 183.33,298.96 177.25,299.04 171.12,299.28 164.98,299.68 158.85,300.26 152.77,300.99 146.76,301.88 140.86,302.92 135.08,304.12 129.47,305.45 124.05,306.92 118.84,308.52 113.87,310.24 109.17,312.07 104.75,314.01 100.64,316.03 96.86,318.15 93.42,320.34 90.35,322.59 87.66,324.89 85.36,327.24 83.46,329.61 81.97,332.00 80.91,334.40 80.26,336.80 80.05,339.17 80.26,341.52 80.91,343.83 81.97,346.09 83.46,348.28 85.36,350.40 87.66,352.44 90.35,354.39 93.42,356.23 96.86,357.97 100.64,359.58 104.75,361.06 109.17,362.41 113.87,363.62 118.84,364.68 124.05,365.58 129.47,366.33 135.08,366.92 140.86,367.35 146.76,367.61 152.77,367.70 158.85,367.62 164.98,367.38 171.12,366.98 177.25,366.40 183.33,365.67 189.34,364.78 195.24,363.74 201.02,362.54 206.63,361.21 212.05,359.74 217.26,358.14 222.23,356.42 226.93,354.59 231.35,352.65 235.46,350.63 239.24,348.51 242.68,346.32 245.75,344.07 248.44,341.77 250.74,339.42 252.64,337.05 254.13,334.66 255.19,332.26 255.84,329.86" fill="none" stroke="#d01c24" stroke-width="1.05"/>
<polygon points="223.72,276.71 223.60,274.41 223.24,272.17 222.65,270.02 221.83,267.97 220.77,266.01 219.50,264.17 218.00,262.45 216.30,260.86 214.39,259.41 212.29,258.11 210.01,256.96 207.55,255.96 204.94,255.13 202.18,254.46 199.29,253.96 196.28,253.64 193.16,253.48 189.96,253.50 186.68,253.70 183.34,254.07 179.97,254.61 176.57,255.32 173.15,256.19 169.75,257.22 166.38,258.41 163.04,259.75 159.76,261.24 156.56,262.86 153.44,264.61 150.43,266.48 147.54,268.46 144.78,270.54 142.17,272.71 139.71,274.96 137.43,277.29 135.33,279.67 133.42,282.09 131.72,284.55 130.22,287.04 128.95,289.53 127.89,292.03 127.07,294.51 126.48,296.96 126.12,299.38 126.00,301.75 126.12,304.05 126.48,306.29 127.07,308.44 127.89,310.49 128.95,312.45 130.22,314.29 131.72,316.01 133.42,317.60 135.33,319.05 137.43,320.35 139.71,321.50 142.17,322.50 144.78,323.33 147.54,324.00 150.43,324.50 153.44,324.82 156.56,324.98 159.76,324.96 163.04,324.76 166.38,324.39 169.75,323.85 173.15,323.14 176.57,322.27 179.97,321.24 183.34,320.05 186.68,318.71 189.96,317.22 193.16,315.60 196.28,313.85 199.29,311.98 202.18,310.00 204.94,307.92 207.55,305.75 210.01,303.50 212.29,301.17 214.39,298.79 216.30,296.37 218.00,293.91 219.50,291.42 220.77,288.93 221.83,286.43 222.65,283.95 223.24,281.50 223.60,279.08" fill="none" stroke="#d01c24" stroke-width="1.05"/>
<polygon points="211.28,321.46 211.15,318.66 210.77,315.91 210.13,313.21 209.23,310.59 208.10,308.05 206.72,305.61 205.10,303.28 203.26,301.07 201.20,298.99 198.93,297.05 196.46,295.26 193.81,293.63 190.99,292.17 188.01,290.89 184.88,289.78 181.63,288.86 178.26,288.13 174.80,287.60 171.25,287.26 167.65,287.12 164.00,287.18 160.32,287.44 156.64,287.90 152.96,288.55 149.31,289.40 145.71,290.43 142.16,291.64 138.70,293.04 135.33,294.60 132.08,296.32 128.95,298.20 125.97,300.23 123.15,302.39 120.50,304.67 118.03,307.07 115.76,309.57 113.70,312.16 111.86,314.83 110.24,317.56 108.86,320.34 107.73,323.16 106.83,326.01 106.19,328.86 105.81,331.71 105.68,334.54 105.81,337.34 106.19,340.09 106.83,342.79 107.73,345.41 108.86,347.95 110.24,350.39 111.86,352.72 113.70,354.93 115.76,357.01 118.03,358.95 120.50,360.74 123.15,362.37 125.97,363.83 128.95,365.11 132.08,366.22 135.33,367.14 138.70,367.87 142.16,368.40 145.71,368.74 149.31,368.88 152.96,368.82 156.64,368.56 160.32,368.10 164.00,367.45 167.65,366.60 171.25,365.57 174.80,364.36 178.26,362.96 181.63,361.40 184.88,359.68 188.01,357.80 190.99,355.77 193.81,353.61 196.46,351.33 198.93,348.93 201.20,346.43 203.26,343.84 205.10,341.17 206.72,338.44 208.10,335.66 209.23,332.84 210.13,329.99 210.77,327.14 211.15,324.29" fill="none" stroke="#d01c24" stroke-width="1.05"/>
<polygon points="202.15,326.59 202.04,324.03 201.71,321.50 201.17,319.02 200.41,316.59 199.44,314.24 198.26,311.97 196.88,309.79 195.31,307.72 193.56,305.76 191.62,303.92 189.52,302.22 187.26,300.65 184.85,299.23 182.31,297.97 179.65,296.87 176.88,295.94 174.01,295.17 171.06,294.59 168.04,294.18 164.96,293.94 161.85,293.89 158.72,294.03 155.58,294.34 152.45,294.83 149.34,295.49 146.26,296.33 143.24,297.34 140.29,298.52 137.42,299.85 134.65,301.33 131.99,302.96 129.45,304.72 127.04,306.62 124.78,308.63 122.68,310.75 120.74,312.97 118.99,315.28 117.42,317.67 116.04,320.12 114.86,322.62 113.89,325.17 113.13,327.74 112.59,330.33 112.26,332.92 112.15,335.51 112.26,338.07 112.59,340.60 113.13,343.08 113.89,345.51 114.86,347.86 116.04,350.13 117.42,352.31 118.99,354.38 120.74,356.34 122.68,358.18 124.78,359.88 127.04,361.45 129.45,362.87 131.99,364.13 134.65,365.23 137.42,366.16 140.29,366.93 143.24,367.51 146.26,367.92 149.34,368.16 152.45,368.21 155.58,368.07 158.72,367.76 161.85,367.27 164.96,366.61 168.04,365.77 171.06,364.76 174.01,363.58 176.88,362.25 179.65,360.77 182.31,359.14 184.85,357.38 187.26,355.48 189.52,353.47 191.62,351.35 193.56,349.13 195.31,346.82 196.88,344.43 198.26,341.98 199.44,339.48 200.41,336.93 201.17,334.36 201.71,331.77 202.04,329.18" fill="none" stroke="#d01c24" stroke-width="1.05"/>
<polygon points="200.80,311.25 200.69,308.15 200.38,305.14 199.85,302.24 199.11,299.45 198.17,296.80 197.03,294.30 195.69,291.96 194.17,289.79 192.46,287.80 190.59,286.00 188.55,284.40 186.36,283.00 184.02,281.83 181.56,280.87 178.98,280.13 176.28,279.63 173.50,279.35 170.64,279.31 167.71,279.50 164.73,279.92 161.71,280.57 158.67,281.45 155.63,282.55 152.59,283.86 149.57,285.39 146.59,287.12 143.66,289.04 140.80,291.15 138.02,293.43 135.33,295.87 132.74,298.47 130.28,301.20 127.94,304.07 125.75,307.04 123.71,310.11 121.84,313.26 120.13,316.48 118.61,319.75 117.27,323.06 116.13,326.38 115.19,329.71 114.45,333.02 113.92,336.31 113.61,339.55 113.50,342.73 113.61,345.83 113.92,348.84 114.45,351.74 115.19,354.53 116.13,357.18 117.27,359.68 118.61,362.02 120.13,364.19 121.84,366.18 123.71,367.98 125.75,369.58 127.94,370.98 130.28,372.15 132.74,373.11 135.32,373.85 138.02,374.35 140.80,374.63 143.66,374.67 146.59,374.48 149.57,374.06 152.59,373.41 155.63,372.53 158.67,371.43 161.71,370.12 164.73,368.59 167.71,366.86 170.64,364.94 173.50,362.83 176.28,360.55 178.98,358.11 181.56,355.51 184.02,352.78 186.36,349.91 188.55,346.94 190.59,343.87 192.46,340.72 194.17,337.50 195.69,334.23 197.03,330.92 198.17,327.60 199.11,324.27 199.85,320.96 200.38,317.67 200.69,314.43" fill="none" stroke="#d01c24" stroke-width="1.05"/>
<polygon points="198.81,320.10 198.70,317.88 198.39,315.71 197.86,313.60 197.12,311.56 196.18,309.61 195.04,307.76 193.70,306.00 192.18,304.36 190.47,302.83 188.60,301.44 186.56,300.17 184.36,299.05 182.03,298.06 179.56,297.23 176.98,296.56 174.29,296.03 171.51,295.67 168.64,295.47 165.71,295.44 162.73,295.56 159.71,295.85 156.67,296.29 153.63,296.90 150.59,297.66 147.57,298.57 144.59,299.63 141.66,300.83 138.79,302.17 136.01,303.63 133.32,305.22 130.74,306.93 128.27,308.74 125.94,310.65 123.74,312.64 121.70,314.72 119.83,316.86 118.12,319.06 116.60,321.31 115.26,323.59 114.12,325.90 113.18,328.23 112.44,330.56 111.91,332.87 111.60,335.17 111.49,337.44 111.60,339.66 111.91,341.83 112.44,343.94 113.18,345.98 114.12,347.93 115.26,349.78 116.60,351.54 118.12,353.18 119.83,354.71 121.70,356.10 123.74,357.37 125.94,358.49 128.27,359.48 130.74,360.31 133.32,360.98 136.01,361.51 138.79,361.87 141.66,362.07 144.59,362.10 147.57,361.98 150.59,361.69 153.63,361.25 156.67,360.64 159.71,359.88 162.73,358.97 165.71,357.91 168.64,356.71 171.51,355.37 174.29,353.91 176.98,352.32 179.56,350.61 182.03,348.80 184.36,346.89 186.56,344.90 188.60,342.82 190.47,340.68 192.18,338.48 193.70,336.23 195.04,333.95 196.18,331.64 197.12,329.31 197.86,326.98 198.39,324.67 198.70,322.37" fill="none" stroke="#d01c24" stroke-width="1.05"/>
<polyline points="-23.53,740.98 -21.26,735.65 -19.00,730.31 -16.73,724.97 -14.46,719.63 -12.19,714.28 -9.92,708.94 -7.64,703.60 -5.36,698.26 -3.08,692.91 -0.80,687.56 1.48,682.22 3.77,676.87 6.06,671.52 8.35,666.17 10.65,660.82 12.94,655.47 15.24,650.12 17.54,644.77 19.85,639.42 22.15,634.06 24.46,628.71 26.77,623.35 29.08,618.00 31.39,612.64 33.71,607.28 36.03,601.92 38.35,596.56 40.68,591.20 43.00,585.84 45.33,580.48 47.66,575.11 49.99,569.75 52.33,564.39 54.66,559.02 57.00,553.65 59.35,548.29 61.69,542.92 64.04,537.55 66.39,532.18 68.74,526.81 71.09,521.44 73.45,516.06 75.80,510.69 78.17,505.32 80.53,499.94 82.89,494.57 85.26,489.19 87.63,483.81 90.00,478.44 92.38,473.06 94.75,467.68 97.13,462.30 99.51,456.91 101.90,451.53 104.28,446.15 106.67,440.77 109.06,435.38 111.46,430.00 113.85,424.61 116.25,419.22 118.65,413.83 121.05,408.44 123.46,403.05 125.87,397.66 128.28,392.27 130.69,386.88 133.10,381.49 135.52,376.09 137.94,370.70 140.36,365.30 142.78,359.91 145.21,354.51 147.64,349.11 150.07,343.71 152.50,338.31 154.94,332.91 157.38,327.51 159.82,322.11 162.26,316.70 164.71,311.30 167.16,305.90 169.61,300.49 172.06,295.08 174.52,289.68 176.97,284.27 179.43,278.86 181.90,273.45 184.36,268.04 186.83,262.63 189.30,257.21 191.77,251.80 194.25,246.39 196.72,240.97 199.20,235.56 201.68,230.14 204.17,224.72 206.66,219.30 209.15,213.88 211.64,208.46 214.13,203.04 216.63,197.62 219.13,192.20 221.63,186.78 224.13,181.35 226.64,175.93 229.15,170.50 231.66,165.07 234.17,159.65 236.69,154.22 239.21,148.79 241.73,143.36 244.26,137.93 246.78,132.50 249.31,127.06 251.84,121.63 254.38,116.20 256.91,110.76 259.45,105.32 261.99,99.89 264.54,94.45 267.08,89.01 269.63,83.57 272.18,78.13 274.74,72.69 277.29,67.25 279.85,61.81 282.41,56.36 284.98,50.92 287.55,45.47 290.11,40.03 292.69,34.58 295.26,29.13 297.84,23.68 300.42,18.23 303.00,12.78 305.58,7.33 308.17,1.88 310.76,-3.57 313.35,-9.03 315.94,-14.48 318.54,-19.94 321.14,-25.39 323.74,-30.85 326.35,-36.31 328.96,-41.77 331.57,-47.23 334.18,-52.69 336.79,-58.15 339.41,-63.61 342.03,-69.07" fill="none" stroke="#1e1e9a" stroke-width="4.0"/>
<polyline points="-23.53,740.98 -21.26,735.65 -19.00,730.31 -16.73,724.97 -14.46,719.63 -12.19,714.28 -9.92,708.94 -7.64,703.60 -5.36,698.26 -3.08,692.91 -0.80,687.56 1.48,682.22 3.77,676.87 6.06,671.52 8.35,666.17 10.65,660.82 12.94,655.47 15.24,650.12 17.54,644.77 19.85,639.42 22.15,634.06 24.46,628.71 26.77,623.35 29.08,618.00 31.39,612.64 33.71,607.28 36.03,601.92 38.35,596.56 40.68,591.20 43.00,585.84 45.33,580.48 47.66,575.11 49.99,569.75 52.33,564.39 54.66,559.02 57.00,553.65 59.35,548.29 61.69,542.92 64.04,537.55 66.39,532.18 68.74,526.81 71.09,521.44 73.45,516.06 75.80,510.69 78.17,505.32 80.53,499.94 82.89,494.57 85.26,489.19 87.63,483.81 90.00,478.44 92.38,473.06 94.75,467.68 97.13,462.30 99.51,456.91 101.90,451.53 104.28,446.15 106.67,440.77 109.06,435.38 111.46,430.00 113.85,424.61 116.25,419.22 118.65,413.83 121.05,408.44 123.46,403.05 125.87,397.66 128.28,392.27 130.69,386.88 133.10,381.49 135.52,376.09 137.94,370.70 140.36,365.30 142.78,359.91 145.21,354.51 147.64,349.11 150.07,343.71 152.50,338.31 154.94,332.91 157.38,327.51 159.82,322.11 162.26,316.70 164.71,311.30 167.16,305.90 169.61,300.49 172.06,295.08 174.52,289.68 176.97,284.27 179.43,278.86 181.90,273.45 184.36,268.04 186.83,262.63 189.30,257.21 191.77,251.80 194.25,246.39 196.72,240.97 199.20,235.56 201.68,230.14 204.17,224.72 206.66,219.30 209.15,213.88 211.64,208.46 214.13,203.04 216.63,197.62 219.13,192.20 221.63,186.78 224.13,181.35 226.64,175.93 229.15,170.50 231.66,165.07 234.17,159.65 236.69,154.22 239.21,148.79 241.73,143.36 244.26,137.93 246.78,132.50 249.31,127.06 251.84,121.63 254.38,116.20 256.91,110.76 259.45,105.32 261.99,99.89 264.54,94.45 267.08,89.01 269.63,83.57 272.18,78.13 274.74,72.69 277.29,67.25 279.85,61.81 282.41,56.36 284.98,50.92 287.55,45.47 290.11,40.03 292.69,34.58 295.26,29.13 297.84,23.68 300.42,18.23 303.00,12.78 305.58,7.33 308.17,1.88 310.76,-3.57 313.35,-9.03 315.94,-14.48 318.54,-19.94 321.14,-25.39 323.74,-30.85 326.35,-36.31 328.96,-41.77 331.57,-47.23 334.18,-52.69 336.79,-58.15 339.41,-63.61 342.03,-69.07" fill="none" stroke="#fff" stroke-opacity="0.55" stroke-width="0.9"/>
<ellipse cx="165.9" cy="309.5" rx="6.6" ry="4.4" transform="rotate(-20 165.9 309.5)" fill="none" stroke="#7cc4e4" stroke-width="1.5"/>
</g>
<text x="126" y="365" style="font-family:'Liberation Sans',Arial,sans-serif;font-size:8.7px;letter-spacing:-0.4px" fill="#333" stroke="#333" stroke-width="0.2">220</text>
<text x="150" y="310" style="font-family:'Liberation Sans',Arial,sans-serif;font-size:8.7px;letter-spacing:-0.4px" fill="#333" stroke="#333" stroke-width="0.2">230</text>
<text x="175" y="255.3" style="font-family:'Liberation Sans',Arial,sans-serif;font-size:8.7px;letter-spacing:-0.4px" fill="#333" stroke="#333" stroke-width="0.2">240</text>
<rect x="57.3" y="221.3" width="217.89999999999998" height="184.89999999999998" fill="none" stroke="#3a3a3a" stroke-width="1.3"/>
<path d="M57.30,406.2v-3M77.11,406.2v-3M96.92,406.2v-3M116.73,406.2v-3M136.54,406.2v-3M156.35,406.2v-3M176.15,406.2v-3M195.96,406.2v-3M215.77,406.2v-3M235.58,406.2v-3M255.39,406.2v-3M275.20,406.2v-3M57.3,406.20h3M57.3,389.39h3M57.3,372.58h3M57.3,355.77h3M57.3,338.96h3M57.3,322.15h3M57.3,305.35h3M57.3,288.54h3M57.3,271.73h3M57.3,254.92h3M57.3,238.11h3M57.3,221.30h3" stroke="#3a3a3a" stroke-width="1" fill="none"/>
<text x="55.80" y="418.8" text-anchor="middle" style="font-family:'Liberation Sans',Arial,sans-serif;font-size:9.2px;letter-spacing:-0.2px" fill="#1a1a1a" stroke="#1a1a1a" stroke-width="0.12">0.20</text>
<text x="95.42" y="418.8" text-anchor="middle" style="font-family:'Liberation Sans',Arial,sans-serif;font-size:9.2px;letter-spacing:-0.2px" fill="#1a1a1a" stroke="#1a1a1a" stroke-width="0.12">0.22</text>
<text x="135.04" y="418.8" text-anchor="middle" style="font-family:'Liberation Sans',Arial,sans-serif;font-size:9.2px;letter-spacing:-0.2px" fill="#1a1a1a" stroke="#1a1a1a" stroke-width="0.12">0.24</text>
<text x="174.65" y="418.8" text-anchor="middle" style="font-family:'Liberation Sans',Arial,sans-serif;font-size:9.2px;letter-spacing:-0.2px" fill="#1a1a1a" stroke="#1a1a1a" stroke-width="0.12">0.26</text>
<text x="214.27" y="418.8" text-anchor="middle" style="font-family:'Liberation Sans',Arial,sans-serif;font-size:9.2px;letter-spacing:-0.2px" fill="#1a1a1a" stroke="#1a1a1a" stroke-width="0.12">0.28</text>
<text x="253.89" y="418.8" text-anchor="middle" style="font-family:'Liberation Sans',Arial,sans-serif;font-size:9.2px;letter-spacing:-0.2px" fill="#1a1a1a" stroke="#1a1a1a" stroke-width="0.12">0.30</text>
<text x="50.3" y="409.40" text-anchor="end" style="font-family:'Liberation Sans',Arial,sans-serif;font-size:9.2px;letter-spacing:-0.2px" fill="#1a1a1a" stroke="#1a1a1a" stroke-width="0.12">0.0335</text>
<text x="50.3" y="375.78" text-anchor="end" style="font-family:'Liberation Sans',Arial,sans-serif;font-size:9.2px;letter-spacing:-0.2px" fill="#1a1a1a" stroke="#1a1a1a" stroke-width="0.12">0.0345</text>
<text x="50.3" y="342.16" text-anchor="end" style="font-family:'Liberation Sans',Arial,sans-serif;font-size:9.2px;letter-spacing:-0.2px" fill="#1a1a1a" stroke="#1a1a1a" stroke-width="0.12">0.0355</text>
<text x="50.3" y="308.55" text-anchor="end" style="font-family:'Liberation Sans',Arial,sans-serif;font-size:9.2px;letter-spacing:-0.2px" fill="#1a1a1a" stroke="#1a1a1a" stroke-width="0.12">0.0365</text>
<text x="50.3" y="274.93" text-anchor="end" style="font-family:'Liberation Sans',Arial,sans-serif;font-size:9.2px;letter-spacing:-0.2px" fill="#1a1a1a" stroke="#1a1a1a" stroke-width="0.12">0.0375</text>
<text x="50.3" y="241.31" text-anchor="end" style="font-family:'Liberation Sans',Arial,sans-serif;font-size:9.2px;letter-spacing:-0.2px" fill="#1a1a1a" stroke="#1a1a1a" stroke-width="0.12">0.0385</text>
<text x="147" y="430.5" style="font-family:'Liberation Sans',Arial,sans-serif;font-size:10.2px" fill="#222"><tspan style="font-size:6.4px" dy="-4">207</tspan><tspan dy="4">Pb/</tspan><tspan style="font-size:6.4px" dy="-4">235</tspan><tspan dy="4">U</tspan></text>
<text transform="translate(18.4,298.5) rotate(-90)" text-anchor="middle" style="font-family:'Liberation Sans',Arial,sans-serif;font-size:13.2px" fill="#222"><tspan style="font-size:8px" dy="-5.3">206</tspan><tspan dy="5.3">Pb/</tspan><tspan style="font-size:8px" dy="-5.3">238</tspan><tspan dy="5.3">U</tspan></text>
<text x="71" y="241.1" style="font-family:'Liberation Sans',Arial,sans-serif;font-size:10px" fill="#2a2a2a" stroke="#2a2a2a" stroke-width="0.2">L20617-13</text>
<text x="71" y="252.3" style="font-family:'Liberation Sans',Arial,sans-serif;font-size:10px" fill="#2a2a2a" stroke="#2a2a2a" stroke-width="0.2">Granite porphyry</text>
<line x1="317.7" x2="541.8" y1="29.88" y2="29.88" stroke="#7a7a7a" stroke-width="1.1"/>
<line x1="317.7" x2="541.8" y1="62.28" y2="62.28" stroke="#7a7a7a" stroke-width="1.1"/>
<line x1="317.7" x2="541.8" y1="94.69" y2="94.69" stroke="#7a7a7a" stroke-width="1.1"/>
<line x1="317.7" x2="541.8" y1="127.09" y2="127.09" stroke="#7a7a7a" stroke-width="1.1"/>
<line x1="317.7" x2="541.8" y1="159.50" y2="159.50" stroke="#7a7a7a" stroke-width="1.1"/>
<rect x="318.7" y="95.2" width="222.09999999999997" height="1.7999999999999972" fill="#d8dcd8"/>
<line x1="326.5" x2="326.5" y1="72.8" y2="107.1" stroke="#d81818" stroke-width="2"/>
<circle cx="326.5" cy="73.1" r="1.6" fill="#d03434"/><circle cx="326.5" cy="106.8" r="1.6" fill="#d03434"/>
<line x1="335.4" x2="335.4" y1="95" y2="127.7" stroke="#d81818" stroke-width="2"/>
<circle cx="335.4" cy="95.3" r="1.6" fill="#d03434"/><circle cx="335.4" cy="127.4" r="1.6" fill="#d03434"/>
<line x1="344.3" x2="344.3" y1="70.5" y2="114" stroke="#d81818" stroke-width="2"/>
<circle cx="344.3" cy="70.8" r="1.6" fill="#d03434"/><circle cx="344.3" cy="113.7" r="1.6" fill="#d03434"/>
<line x1="353.5" x2="353.5" y1="84.9" y2="124.3" stroke="#d81818" stroke-width="2"/>
<circle cx="353.5" cy="85.2" r="1.6" fill="#d03434"/><circle cx="353.5" cy="124.0" r="1.6" fill="#d03434"/>
<line x1="362.4" x2="362.4" y1="68" y2="113.3" stroke="#d81818" stroke-width="2"/>
<circle cx="362.4" cy="68.3" r="1.6" fill="#d03434"/><circle cx="362.4" cy="113.0" r="1.6" fill="#d03434"/>
<line x1="371.4" x2="371.4" y1="54.2" y2="106" stroke="#d81818" stroke-width="2"/>
<circle cx="371.4" cy="54.5" r="1.6" fill="#d03434"/><circle cx="371.4" cy="105.7" r="1.6" fill="#d03434"/>
<line x1="380.3" x2="380.3" y1="73.4" y2="117.4" stroke="#d81818" stroke-width="2"/>
<circle cx="380.3" cy="73.7" r="1.6" fill="#d03434"/><circle cx="380.3" cy="117.10000000000001" r="1.6" fill="#d03434"/>
<line x1="389.2" x2="389.2" y1="60" y2="102.5" stroke="#d81818" stroke-width="2"/>
<circle cx="389.2" cy="60.3" r="1.6" fill="#d03434"/><circle cx="389.2" cy="102.2" r="1.6" fill="#d03434"/>
<line x1="398.2" x2="398.2" y1="72" y2="108" stroke="#d81818" stroke-width="2"/>
<circle cx="398.2" cy="72.3" r="1.6" fill="#d03434"/><circle cx="398.2" cy="107.7" r="1.6" fill="#d03434"/>
<line x1="407.1" x2="407.1" y1="90.8" y2="127.5" stroke="#d81818" stroke-width="2"/>
<circle cx="407.1" cy="91.1" r="1.6" fill="#d03434"/><circle cx="407.1" cy="127.2" r="1.6" fill="#d03434"/>
<line x1="416" x2="416" y1="94" y2="126.3" stroke="#d81818" stroke-width="2"/>
<circle cx="416" cy="94.3" r="1.6" fill="#d03434"/><circle cx="416" cy="126.0" r="1.6" fill="#d03434"/>
<line x1="425" x2="425" y1="82.8" y2="118.1" stroke="#d81818" stroke-width="2"/>
<circle cx="425" cy="83.1" r="1.6" fill="#d03434"/><circle cx="425" cy="117.8" r="1.6" fill="#d03434"/>
<line x1="434.2" x2="434.2" y1="64.5" y2="104.1" stroke="#d81818" stroke-width="2"/>
<circle cx="434.2" cy="64.8" r="1.6" fill="#d03434"/><circle cx="434.2" cy="103.8" r="1.6" fill="#d03434"/>
<line x1="443.1" x2="443.1" y1="90.4" y2="122.9" stroke="#d81818" stroke-width="2"/>
<circle cx="443.1" cy="90.7" r="1.6" fill="#d03434"/><circle cx="443.1" cy="122.60000000000001" r="1.6" fill="#d03434"/>
<line x1="452" x2="452" y1="65.9" y2="100.7" stroke="#d81818" stroke-width="2"/>
<circle cx="452" cy="66.2" r="1.6" fill="#d03434"/><circle cx="452" cy="100.4" r="1.6" fill="#d03434"/>
<line x1="461" x2="461" y1="85.1" y2="116.7" stroke="#d81818" stroke-width="2"/>
<circle cx="461" cy="85.39999999999999" r="1.6" fill="#d03434"/><circle cx="461" cy="116.4" r="1.6" fill="#d03434"/>
<line x1="469.9" x2="469.9" y1="70.5" y2="106.4" stroke="#d81818" stroke-width="2"/>
<circle cx="469.9" cy="70.8" r="1.6" fill="#d03434"/><circle cx="469.9" cy="106.10000000000001" r="1.6" fill="#d03434"/>
<line x1="479" x2="479" y1="71.4" y2="104.6" stroke="#d81818" stroke-width="2"/>
<circle cx="479" cy="71.7" r="1.6" fill="#d03434"/><circle cx="479" cy="104.3" r="1.6" fill="#d03434"/>
<line x1="488" x2="488" y1="84.7" y2="123.1" stroke="#d81818" stroke-width="2"/>
<circle cx="488" cy="85.0" r="1.6" fill="#d03434"/><circle cx="488" cy="122.8" r="1.6" fill="#d03434"/>
<line x1="496.9" x2="496.9" y1="79.6" y2="119.5" stroke="#d81818" stroke-width="2"/>
<circle cx="496.9" cy="79.89999999999999" r="1.6" fill="#d03434"/><circle cx="496.9" cy="119.2" r="1.6" fill="#d03434"/>
<line x1="505.8" x2="505.8" y1="84.9" y2="124.3" stroke="#d81818" stroke-width="2"/>
<circle cx="505.8" cy="85.2" r="1.6" fill="#d03434"/><circle cx="505.8" cy="124.0" r="1.6" fill="#d03434"/>
<line x1="515" x2="515" y1="69.3" y2="111.4" stroke="#d81818" stroke-width="2"/>
<circle cx="515" cy="69.6" r="1.6" fill="#d03434"/><circle cx="515" cy="111.10000000000001" r="1.6" fill="#d03434"/>
<line x1="523.9" x2="523.9" y1="86.3" y2="124.7" stroke="#d81818" stroke-width="2"/>
<circle cx="523.9" cy="86.6" r="1.6" fill="#d03434"/><circle cx="523.9" cy="124.4" r="1.6" fill="#d03434"/>
<line x1="532.9" x2="532.9" y1="76" y2="116.7" stroke="#d81818" stroke-width="2"/>
<circle cx="532.9" cy="76.3" r="1.6" fill="#d03434"/><circle cx="532.9" cy="116.4" r="1.6" fill="#d03434"/>
<line x1="320" x2="540.8" y1="97.2" y2="97.2" stroke="#1f6f25" stroke-width="1.4"/>
<rect x="321" y="157" width="90" height="31.400000000000006" fill="#fff" stroke="#555" stroke-width="1"/>
<text x="326.5" y="168.9" style="font-family:'Liberation Sans',Arial,sans-serif;font-size:8.9px" fill="#1a1a1a" stroke="#1a1a1a" stroke-width="0.2">Mean = 234 <tspan fill="#9a9a9a" stroke="#9a9a9a">±</tspan> 1 Ma</text>
<text x="326.5" y="181.7" style="font-family:'Liberation Sans',Arial,sans-serif;font-size:8.9px" fill="#1a1a1a" stroke="#1a1a1a" stroke-width="0.2">N = 24, MSWD = 1.1</text>
<rect x="317.7" y="7" width="224.09999999999997" height="184.9" fill="none" stroke="#4a4a4a" stroke-width="1.3"/>
<text x="313.3" y="195.00" text-anchor="end" style="font-family:'Liberation Sans',Arial,sans-serif;font-size:9.5px" fill="#1a1a1a" stroke="#1a1a1a" stroke-width="0.25">205</text>
<text x="313.3" y="162.60" text-anchor="end" style="font-family:'Liberation Sans',Arial,sans-serif;font-size:9.5px" fill="#1a1a1a" stroke="#1a1a1a" stroke-width="0.25">215</text>
<text x="313.3" y="130.19" text-anchor="end" style="font-family:'Liberation Sans',Arial,sans-serif;font-size:9.5px" fill="#1a1a1a" stroke="#1a1a1a" stroke-width="0.25">225</text>
<text x="313.3" y="97.79" text-anchor="end" style="font-family:'Liberation Sans',Arial,sans-serif;font-size:9.5px" fill="#1a1a1a" stroke="#1a1a1a" stroke-width="0.25">235</text>
<text x="313.3" y="65.38" text-anchor="end" style="font-family:'Liberation Sans',Arial,sans-serif;font-size:9.5px" fill="#1a1a1a" stroke="#1a1a1a" stroke-width="0.25">245</text>
<text x="313.3" y="32.98" text-anchor="end" style="font-family:'Liberation Sans',Arial,sans-serif;font-size:9.5px" fill="#1a1a1a" stroke="#1a1a1a" stroke-width="0.25">255</text>
<text transform="translate(292,86.3) rotate(-90)" text-anchor="middle" style="font-family:'Liberation Sans',Arial,sans-serif;font-size:10.5px" fill="#444">Age</text>
<clipPath id="clt"><rect x="463.3" y="128.3" width="75.2" height="59.3"/></clipPath><g clip-path="url(#clt)"><rect x="463.3" y="128.3" width="75.2" height="59.3" fill="#717171"/><g filter="url(#bl1)"><polygon points="473.0,155.0 480.0,146.0 510.0,140.0 524.0,141.0 531.0,150.0 529.0,170.0 519.0,180.0 500.0,184.0 480.0,184.0 474.0,174.0 472.0,160.0" fill="#5a5a5a" stroke="#363636" stroke-width="1.4"/><polygon points="472.6,156.0 477.0,155.6 478.0,167.0 473.2,166.0" fill="#a4a4a4"/><polygon points="480.6,146.4 510.0,140.6 509.0,144.4 482.4,150.4" fill="#858585"/><polygon points="502.0,142.0 524.0,141.4 530.6,150.0 528.6,170.0 519.0,179.6 506.0,173.6 502.4,156.0" fill="#4b4b4b"/><polygon points="477.0,152.0 492.4,153.0 485.6,178.4 479.0,176.4" fill="#2c2c2c"/><polygon points="481.4,155.2 487.6,156.0 482.4,173.6 480.2,172.4" fill="#575757"/><polygon points="494.4,157.6 502.4,157.2 502.2,163.2 496.2,163.2" fill="#222"/><polygon points="496.0,164.4 503.0,164.0 503.6,171.0 497.0,171.0" fill="#707070"/><polygon points="485.6,178.4 518.0,176.0 516.4,180.8 488.0,183.2" fill="#7c7c7c"/></g><circle cx="517.6" cy="149.6" r="0.9" fill="#ddd"/><circle cx="516.4" cy="160.2" r="5.7" fill="none" stroke="#f0f0f0" stroke-width="1.1"/><text x="501.9" y="139.3" text-anchor="middle" style="font-family:'Liberation Sans',Arial,sans-serif;font-size:10.8px" fill="#fff" stroke="#fff" stroke-width="0.2">L20617-9-21</text><text x="522" y="184.3" text-anchor="middle" style="font-family:'Liberation Sans',Arial,sans-serif;font-size:7.9px" fill="#fff" stroke="#fff" stroke-width="0.2">100μm</text><rect x="507" y="185.2" width="30" height="1.4" fill="#fff"/></g>
<line x1="317.4" x2="542" y1="246.53" y2="246.53" stroke="#7a7a7a" stroke-width="1.1"/>
<line x1="317.4" x2="542" y1="278.46" y2="278.46" stroke="#7a7a7a" stroke-width="1.1"/>
<line x1="317.4" x2="542" y1="310.40" y2="310.40" stroke="#7a7a7a" stroke-width="1.1"/>
<line x1="317.4" x2="542" y1="342.33" y2="342.33" stroke="#7a7a7a" stroke-width="1.1"/>
<line x1="317.4" x2="542" y1="374.27" y2="374.27" stroke="#7a7a7a" stroke-width="1.1"/>
<rect x="318.4" y="310.8" width="222.60000000000002" height="1.1999999999999886" fill="#d8dcd8"/>
<line x1="326.7" x2="326.7" y1="307.3" y2="342.1" stroke="#d81818" stroke-width="2"/>
<circle cx="326.7" cy="307.6" r="1.6" fill="#d03434"/><circle cx="326.7" cy="341.8" r="1.6" fill="#d03434"/>
<line x1="336.1" x2="336.1" y1="307.3" y2="344.9" stroke="#d81818" stroke-width="2"/>
<circle cx="336.1" cy="307.6" r="1.6" fill="#d03434"/><circle cx="336.1" cy="344.59999999999997" r="1.6" fill="#d03434"/>
<line x1="345.5" x2="345.5" y1="288.8" y2="329.1" stroke="#d81818" stroke-width="2"/>
<circle cx="345.5" cy="289.1" r="1.6" fill="#d03434"/><circle cx="345.5" cy="328.8" r="1.6" fill="#d03434"/>
<line x1="354.6" x2="354.6" y1="308.5" y2="341" stroke="#d81818" stroke-width="2"/>
<circle cx="354.6" cy="308.8" r="1.6" fill="#d03434"/><circle cx="354.6" cy="340.7" r="1.6" fill="#d03434"/>
<line x1="364" x2="364" y1="287.2" y2="327.7" stroke="#d81818" stroke-width="2"/>
<circle cx="364" cy="287.5" r="1.6" fill="#d03434"/><circle cx="364" cy="327.4" r="1.6" fill="#d03434"/>
<line x1="373.4" x2="373.4" y1="308.9" y2="339.9" stroke="#d81818" stroke-width="2"/>
<circle cx="373.4" cy="309.2" r="1.6" fill="#d03434"/><circle cx="373.4" cy="339.59999999999997" r="1.6" fill="#d03434"/>
<line x1="382.8" x2="382.8" y1="287.4" y2="318.8" stroke="#d81818" stroke-width="2"/>
<circle cx="382.8" cy="287.7" r="1.6" fill="#d03434"/><circle cx="382.8" cy="318.5" r="1.6" fill="#d03434"/>
<line x1="392" x2="392" y1="278.2" y2="316" stroke="#d81818" stroke-width="2"/>
<circle cx="392" cy="278.5" r="1.6" fill="#d03434"/><circle cx="392" cy="315.7" r="1.6" fill="#d03434"/>
<line x1="401.4" x2="401.4" y1="309.4" y2="347.9" stroke="#d81818" stroke-width="2"/>
<circle cx="401.4" cy="309.7" r="1.6" fill="#d03434"/><circle cx="401.4" cy="347.59999999999997" r="1.6" fill="#d03434"/>
<line x1="410.8" x2="410.8" y1="286" y2="322.7" stroke="#d81818" stroke-width="2"/>
<circle cx="410.8" cy="286.3" r="1.6" fill="#d03434"/><circle cx="410.8" cy="322.4" r="1.6" fill="#d03434"/>
<line x1="420.2" x2="420.2" y1="295.4" y2="326.6" stroke="#d81818" stroke-width="2"/>
<circle cx="420.2" cy="295.7" r="1.6" fill="#d03434"/><circle cx="420.2" cy="326.3" r="1.6" fill="#d03434"/>
<line x1="429.4" x2="429.4" y1="285.6" y2="318.8" stroke="#d81818" stroke-width="2"/>
<circle cx="429.4" cy="285.90000000000003" r="1.6" fill="#d03434"/><circle cx="429.4" cy="318.5" r="1.6" fill="#d03434"/>
<line x1="438.7" x2="438.7" y1="290.8" y2="324.3" stroke="#d81818" stroke-width="2"/>
<circle cx="438.7" cy="291.1" r="1.6" fill="#d03434"/><circle cx="438.7" cy="324.0" r="1.6" fill="#d03434"/>
<line x1="448.1" x2="448.1" y1="278.5" y2="315.1" stroke="#d81818" stroke-width="2"/>
<circle cx="448.1" cy="278.8" r="1.6" fill="#d03434"/><circle cx="448.1" cy="314.8" r="1.6" fill="#d03434"/>
<line x1="457.5" x2="457.5" y1="279.2" y2="322.7" stroke="#d81818" stroke-width="2"/>
<circle cx="457.5" cy="279.5" r="1.6" fill="#d03434"/><circle cx="457.5" cy="322.4" r="1.6" fill="#d03434"/>
<line x1="466.7" x2="466.7" y1="279.2" y2="316" stroke="#d81818" stroke-width="2"/>
<circle cx="466.7" cy="279.5" r="1.6" fill="#d03434"/><circle cx="466.7" cy="315.7" r="1.6" fill="#d03434"/>
<line x1="476.1" x2="476.1" y1="277.8" y2="312.6" stroke="#d81818" stroke-width="2"/>
<circle cx="476.1" cy="278.1" r="1.6" fill="#d03434"/><circle cx="476.1" cy="312.3" r="1.6" fill="#d03434"/>
<line x1="485.5" x2="485.5" y1="310" y2="343.3" stroke="#d81818" stroke-width="2"/>
<circle cx="485.5" cy="310.3" r="1.6" fill="#d03434"/><circle cx="485.5" cy="343.0" r="1.6" fill="#d03434"/>
<line x1="494.8" x2="494.8" y1="283.3" y2="317.9" stroke="#d81818" stroke-width="2"/>
<circle cx="494.8" cy="283.6" r="1.6" fill="#d03434"/><circle cx="494.8" cy="317.59999999999997" r="1.6" fill="#d03434"/>
<line x1="504" x2="504" y1="303.7" y2="343.3" stroke="#d81818" stroke-width="2"/>
<circle cx="504" cy="304.0" r="1.6" fill="#d03434"/><circle cx="504" cy="343.0" r="1.6" fill="#d03434"/>
<line x1="513.4" x2="513.4" y1="307.3" y2="343.3" stroke="#d81818" stroke-width="2"/>
<circle cx="513.4" cy="307.6" r="1.6" fill="#d03434"/><circle cx="513.4" cy="343.0" r="1.6" fill="#d03434"/>
<line x1="522.8" x2="522.8" y1="299.8" y2="346" stroke="#d81818" stroke-width="2"/>
<circle cx="522.8" cy="300.1" r="1.6" fill="#d03434"/><circle cx="522.8" cy="345.7" r="1.6" fill="#d03434"/>
<line x1="532.2" x2="532.2" y1="307.8" y2="340.1" stroke="#d81818" stroke-width="2"/>
<circle cx="532.2" cy="308.1" r="1.6" fill="#d03434"/><circle cx="532.2" cy="339.8" r="1.6" fill="#d03434"/>
<line x1="319" x2="541" y1="312.4" y2="312.4" stroke="#1f6f25" stroke-width="1.4"/>
<rect x="320.5" y="371.3" width="97.10000000000002" height="31.899999999999977" fill="#fff" stroke="#555" stroke-width="1"/>
<text x="326" y="383.7" style="font-family:'Liberation Sans',Arial,sans-serif;font-size:9.4px" fill="#1a1a1a" stroke="#1a1a1a" stroke-width="0.2">Mean = 230 <tspan fill="#9a9a9a" stroke="#9a9a9a">±</tspan> 2 Ma</text>
<text x="326" y="396.4" style="font-family:'Liberation Sans',Arial,sans-serif;font-size:9.4px" fill="#1a1a1a" stroke="#1a1a1a" stroke-width="0.2">N = 23, MSWD = 1.9</text>
<rect x="317.4" y="221.3" width="224.60000000000002" height="184.89999999999998" fill="none" stroke="#4a4a4a" stroke-width="1.3"/>
<text x="312.8" y="409.30" text-anchor="end" style="font-family:'Liberation Sans',Arial,sans-serif;font-size:9.5px" fill="#1a1a1a" stroke="#1a1a1a" stroke-width="0.25">201</text>
<text x="312.8" y="377.37" text-anchor="end" style="font-family:'Liberation Sans',Arial,sans-serif;font-size:9.5px" fill="#1a1a1a" stroke="#1a1a1a" stroke-width="0.25">211</text>
<text x="312.8" y="345.43" text-anchor="end" style="font-family:'Liberation Sans',Arial,sans-serif;font-size:9.5px" fill="#1a1a1a" stroke="#1a1a1a" stroke-width="0.25">221</text>
<text x="312.8" y="313.50" text-anchor="end" style="font-family:'Liberation Sans',Arial,sans-serif;font-size:9.5px" fill="#1a1a1a" stroke="#1a1a1a" stroke-width="0.25">231</text>
<text x="312.8" y="281.56" text-anchor="end" style="font-family:'Liberation Sans',Arial,sans-serif;font-size:9.5px" fill="#1a1a1a" stroke="#1a1a1a" stroke-width="0.25">241</text>
<text x="312.8" y="249.63" text-anchor="end" style="font-family:'Liberation Sans',Arial,sans-serif;font-size:9.5px" fill="#1a1a1a" stroke="#1a1a1a" stroke-width="0.25">251</text>
<text transform="translate(291.4,304.3) rotate(-90)" text-anchor="middle" style="font-family:'Liberation Sans',Arial,sans-serif;font-size:10.5px" fill="#444">Age</text>
<clipPath id="clb"><rect x="463.3" y="348.9" width="75.2" height="55"/></clipPath><g clip-path="url(#clb)"><rect x="463.3" y="348.9" width="75.2" height="55" fill="#727272"/><g filter="url(#bl1)"><polygon points="479.0,361.6 500.0,355.6 520.0,361.6 529.4,377.0 524.4,390.4 507.0,400.4 485.0,399.0 475.6,381.0" fill="#606060"/><polygon points="480.0,361.6 498.0,356.8 497.0,370.0 487.0,375.6 478.0,372.0" fill="#444"/><polygon points="504.0,357.6 520.0,362.0 529.0,377.0 524.0,390.0 513.0,389.0 507.0,374.0" fill="#383838"/><polygon points="477.0,378.0 490.0,375.0 495.0,390.0 486.0,398.0 478.0,390.0" fill="#4e4e4e"/><polygon points="495.0,370.0 504.0,368.0 509.0,390.0 500.0,393.0" fill="#727272"/><polygon points="490.0,392.4 508.0,391.0 507.0,400.0 488.0,398.4" fill="#686868"/></g><circle cx="485" cy="380.9" r="6" fill="none" stroke="#f2f2f2" stroke-width="1.3"/><text x="465.2" y="357.6" style="font-family:'Liberation Sans',Arial,sans-serif;font-size:10px;letter-spacing:-0.45px" fill="#fff" stroke="#fff" stroke-width="0.2">L20617-13-13</text><text x="527" y="399.8" text-anchor="middle" style="font-family:'Liberation Sans',Arial,sans-serif;font-size:7.3px" fill="#fff" stroke="#fff" stroke-width="0.2">100μm</text><rect x="500.5" y="400.4" width="36.5" height="1.4" fill="#fff"/></g>
</svg></body></html>
